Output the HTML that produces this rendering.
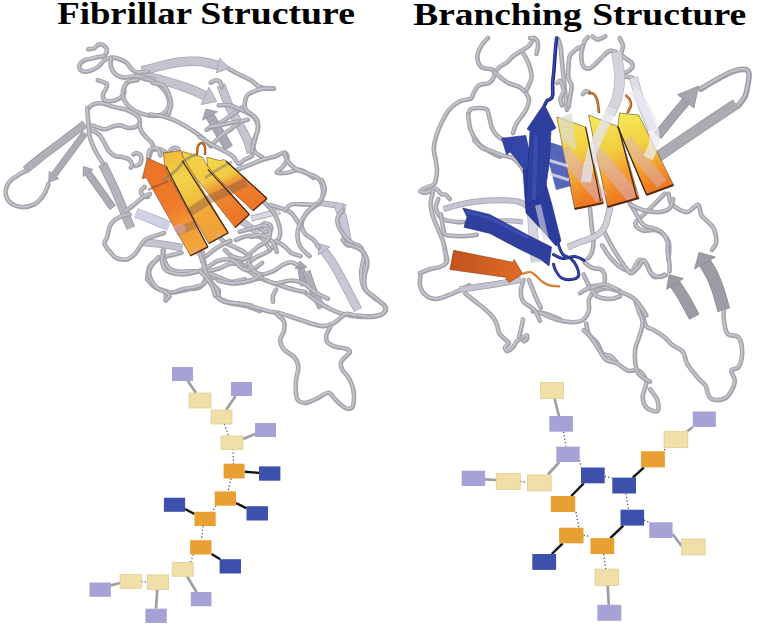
<!DOCTYPE html>
<html><head><meta charset="utf-8"><style>
html,body{margin:0;padding:0;background:#fff;width:757px;height:624px;overflow:hidden}
svg{display:block}
</style></head><body>
<svg width="757" height="624" viewBox="0 0 757 624">
<rect width="757" height="624" fill="#fff"/>
<path d="M85.0,124.0 C80.8,127.2 67.5,137.3 60.0,143.0 C52.5,148.7 45.8,153.5 40.0,158.0 C34.2,162.5 27.9,168.0 25.5,170.0" fill="none" stroke="#92929e" stroke-width="8.0" stroke-linecap="butt" stroke-linejoin="round"/>
<path d="M85.0,124.0 C80.8,127.2 67.5,137.3 60.0,143.0 C52.5,148.7 45.8,153.5 40.0,158.0 C34.2,162.5 27.9,168.0 25.5,170.0" fill="none" stroke="#b0b0ba" stroke-width="6.6" stroke-linecap="butt" stroke-linejoin="round"/>
<path d="M85.0,133.0 C82.2,136.8 73.2,149.0 68.0,156.0 C62.8,163.0 56.3,171.8 54.0,175.0" fill="none" stroke="#90909c" stroke-width="7.0" stroke-linecap="butt" stroke-linejoin="round"/>
<path d="M85.0,133.0 C82.2,136.8 73.2,149.0 68.0,156.0 C62.8,163.0 56.3,171.8 54.0,175.0" fill="none" stroke="#acacb6" stroke-width="5.6" stroke-linecap="butt" stroke-linejoin="round"/>
<polygon points="49.2,171.4 48.7,182.2 58.8,178.6" fill="#acacb6" stroke="#90909c" stroke-width="0.8" stroke-linejoin="round"/>
<path d="M102.6,164.0 C104.8,168.7 111.3,181.3 116.0,192.0 C120.7,202.7 128.3,222.0 130.8,228.0" fill="none" stroke="#94949e" stroke-width="9.0" stroke-linecap="butt" stroke-linejoin="round"/>
<path d="M102.6,164.0 C104.8,168.7 111.3,181.3 116.0,192.0 C120.7,202.7 128.3,222.0 130.8,228.0" fill="none" stroke="#b4b4be" stroke-width="7.6" stroke-linecap="butt" stroke-linejoin="round"/>
<path d="M112.8,207.7 C110.3,204.2 102.1,192.8 98.0,187.0 C93.9,181.2 89.7,175.3 88.0,173.0" fill="none" stroke="#90909c" stroke-width="7.5" stroke-linecap="butt" stroke-linejoin="round"/>
<path d="M112.8,207.7 C110.3,204.2 102.1,192.8 98.0,187.0 C93.9,181.2 89.7,175.3 88.0,173.0" fill="none" stroke="#acacb6" stroke-width="6.1" stroke-linecap="butt" stroke-linejoin="round"/>
<polygon points="92.9,169.5 83.4,166.5 83.1,176.5" fill="#acacb6" stroke="#90909c" stroke-width="0.8" stroke-linejoin="round"/>
<path d="M142.0,71.0 C145.1,70.2 154.3,67.5 160.6,66.0 C166.9,64.5 173.4,62.8 180.0,62.0 C186.6,61.2 193.7,60.9 200.0,61.5 C206.3,62.1 215.0,64.8 218.0,65.5" fill="none" stroke="#9e9eac" stroke-width="9.5" stroke-linecap="butt" stroke-linejoin="round"/>
<path d="M142.0,71.0 C145.1,70.2 154.3,67.5 160.6,66.0 C166.9,64.5 173.4,62.8 180.0,62.0 C186.6,61.2 193.7,60.9 200.0,61.5 C206.3,62.1 215.0,64.8 218.0,65.5" fill="none" stroke="#c4c4d0" stroke-width="8.1" stroke-linecap="butt" stroke-linejoin="round"/>
<polygon points="216.4,72.8 229.7,68.1 219.6,58.2" fill="#c4c4d0" stroke="#9e9eac" stroke-width="0.8" stroke-linejoin="round"/>
<path d="M139.0,75.0 C143.3,76.0 156.5,78.7 165.0,81.0 C173.5,83.3 183.3,86.5 190.0,89.0 C196.7,91.5 202.5,94.8 205.0,96.0" fill="none" stroke="#9e9eac" stroke-width="9.5" stroke-linecap="butt" stroke-linejoin="round"/>
<path d="M139.0,75.0 C143.3,76.0 156.5,78.7 165.0,81.0 C173.5,83.3 183.3,86.5 190.0,89.0 C196.7,91.5 202.5,94.8 205.0,96.0" fill="none" stroke="#c4c4d0" stroke-width="8.1" stroke-linecap="butt" stroke-linejoin="round"/>
<polygon points="201.0,104.6 216.8,101.5 209.0,87.4" fill="#c4c4d0" stroke="#9e9eac" stroke-width="0.8" stroke-linejoin="round"/>
<path d="M221.0,85.0 C222.4,88.6 226.2,99.9 229.3,106.6 C232.4,113.3 236.7,119.4 239.8,125.1 C242.9,130.8 245.9,136.3 247.8,141.0 C249.7,145.7 250.5,151.0 251.0,153.0" fill="none" stroke="#9e9eac" stroke-width="9.0" stroke-linecap="butt" stroke-linejoin="round"/>
<path d="M221.0,85.0 C222.4,88.6 226.2,99.9 229.3,106.6 C232.4,113.3 236.7,119.4 239.8,125.1 C242.9,130.8 245.9,136.3 247.8,141.0 C249.7,145.7 250.5,151.0 251.0,153.0" fill="none" stroke="#c4c4d0" stroke-width="7.6" stroke-linecap="butt" stroke-linejoin="round"/>
<path d="M210.8,82.7 C211.5,82.3 213.5,80.7 215.0,80.5 C216.5,80.3 218.6,80.4 219.8,81.5 C221.0,82.6 221.6,86.1 222.0,87.0" fill="none" stroke="#a2a2aa" stroke-width="4.6" stroke-linecap="round" stroke-linejoin="round"/>
<path d="M210.8,82.7 C211.5,82.3 213.5,80.7 215.0,80.5 C216.5,80.3 218.6,80.4 219.8,81.5 C221.0,82.6 221.6,86.1 222.0,87.0" fill="none" stroke="#c4c4cc" stroke-width="1.9" stroke-linecap="round" stroke-linejoin="round" transform="translate(-0.3,-0.4)"/>
<path d="M206.4,129.8 C208.6,128.7 215.3,125.7 219.8,123.1 C224.3,120.5 229.6,116.7 233.3,114.1 C237.1,111.5 240.8,108.5 242.3,107.4" fill="none" stroke="#a2a2aa" stroke-width="4.6" stroke-linecap="round" stroke-linejoin="round"/>
<path d="M206.4,129.8 C208.6,128.7 215.3,125.7 219.8,123.1 C224.3,120.5 229.6,116.7 233.3,114.1 C237.1,111.5 240.8,108.5 242.3,107.4" fill="none" stroke="#c4c4cc" stroke-width="1.9" stroke-linecap="round" stroke-linejoin="round" transform="translate(-0.3,-0.4)"/>
<path d="M228.8,148.0 C227.0,145.0 221.1,135.3 218.0,130.0 C214.9,124.7 211.3,118.3 210.0,116.0" fill="none" stroke="#8e8e9c" stroke-width="9.5" stroke-linecap="butt" stroke-linejoin="round"/>
<path d="M228.8,148.0 C227.0,145.0 221.1,135.3 218.0,130.0 C214.9,124.7 211.3,118.3 210.0,116.0" fill="none" stroke="#a8a8b4" stroke-width="8.1" stroke-linecap="butt" stroke-linejoin="round"/>
<polygon points="217.4,111.8 206.0,109.1 202.6,120.2" fill="#a8a8b4" stroke="#8e8e9c" stroke-width="0.8" stroke-linejoin="round"/>
<path d="M358.0,310.0 C356.0,306.2 350.0,294.5 346.0,287.0 C342.0,279.5 337.7,271.0 334.0,265.0 C330.3,259.0 325.7,253.3 324.0,251.0" fill="none" stroke="#9e9eac" stroke-width="9.0" stroke-linecap="butt" stroke-linejoin="round"/>
<path d="M358.0,310.0 C356.0,306.2 350.0,294.5 346.0,287.0 C342.0,279.5 337.7,271.0 334.0,265.0 C330.3,259.0 325.7,253.3 324.0,251.0" fill="none" stroke="#c8c8d4" stroke-width="7.6" stroke-linecap="butt" stroke-linejoin="round"/>
<polygon points="329.7,246.9 318.8,243.7 318.3,255.1" fill="#c8c8d4" stroke="#9e9eac" stroke-width="0.8" stroke-linejoin="round"/>
<path d="M304.0,286.0 C303.7,284.2 302.5,278.0 302.0,275.0 C301.5,272.0 301.2,269.2 301.0,268.0" fill="none" stroke="#8e8e9a" stroke-width="7.0" stroke-linecap="butt" stroke-linejoin="round"/>
<path d="M304.0,286.0 C303.7,284.2 302.5,278.0 302.0,275.0 C301.5,272.0 301.2,269.2 301.0,268.0" fill="none" stroke="#a8a8b2" stroke-width="5.6" stroke-linecap="butt" stroke-linejoin="round"/>
<polygon points="306.9,267.2 300.0,261.1 295.1,268.8" fill="#a8a8b2" stroke="#8e8e9a" stroke-width="0.8" stroke-linejoin="round"/>
<path d="M306.5,271.3 C307.6,274.4 310.4,283.9 313.0,290.0 C315.6,296.1 320.3,304.9 321.8,307.9" fill="none" stroke="#92929e" stroke-width="8.0" stroke-linecap="butt" stroke-linejoin="round"/>
<path d="M306.5,271.3 C307.6,274.4 310.4,283.9 313.0,290.0 C315.6,296.1 320.3,304.9 321.8,307.9" fill="none" stroke="#b0b0ba" stroke-width="6.6" stroke-linecap="butt" stroke-linejoin="round"/>
<path d="M136.0,213.0 C138.7,214.0 146.5,216.8 152.0,219.0 C157.5,221.2 166.2,224.8 169.0,226.0" fill="none" stroke="#b0b0c8" stroke-width="10.0" stroke-linecap="butt" stroke-linejoin="round"/>
<path d="M136.0,213.0 C138.7,214.0 146.5,216.8 152.0,219.0 C157.5,221.2 166.2,224.8 169.0,226.0" fill="none" stroke="#d0d0e6" stroke-width="8.6" stroke-linecap="butt" stroke-linejoin="round"/>
<path d="M142.8,242.3 C145.7,242.6 153.4,243.1 160.0,244.0 C166.6,244.9 178.8,247.0 182.5,247.6" fill="none" stroke="#9e9eac" stroke-width="7.6" stroke-linecap="butt" stroke-linejoin="round"/>
<path d="M142.8,242.3 C145.7,242.6 153.4,243.1 160.0,244.0 C166.6,244.9 178.8,247.0 182.5,247.6" fill="none" stroke="#c4c4d0" stroke-width="6.2" stroke-linecap="butt" stroke-linejoin="round"/>
<path d="M318.9,202.8 C322.0,203.2 332.9,204.8 337.4,205.5 C341.9,206.2 344.6,206.8 346.0,207.0" fill="none" stroke="#9e9eac" stroke-width="6.0" stroke-linecap="butt" stroke-linejoin="round"/>
<path d="M318.9,202.8 C322.0,203.2 332.9,204.8 337.4,205.5 C341.9,206.2 344.6,206.8 346.0,207.0" fill="none" stroke="#c4c4d0" stroke-width="4.6" stroke-linecap="butt" stroke-linejoin="round"/>
<path d="M338.0,204.0 C338.8,206.6 341.7,214.5 343.0,219.6 C344.3,224.7 345.2,230.7 346.0,234.8 C346.8,238.9 347.7,242.5 348.0,244.0" fill="none" stroke="#9e9eac" stroke-width="9.0" stroke-linecap="butt" stroke-linejoin="round"/>
<path d="M338.0,204.0 C338.8,206.6 341.7,214.5 343.0,219.6 C344.3,224.7 345.2,230.7 346.0,234.8 C346.8,238.9 347.7,242.5 348.0,244.0" fill="none" stroke="#c8c8d4" stroke-width="7.6" stroke-linecap="butt" stroke-linejoin="round"/>
<path d="M251.0,218.5 C253.3,217.9 260.2,216.2 265.0,215.0 C269.8,213.8 277.5,211.7 280.0,211.0" fill="none" stroke="#9e9eac" stroke-width="6.0" stroke-linecap="butt" stroke-linejoin="round"/>
<path d="M251.0,218.5 C253.3,217.9 260.2,216.2 265.0,215.0 C269.8,213.8 277.5,211.7 280.0,211.0" fill="none" stroke="#d8d8e2" stroke-width="4.6" stroke-linecap="butt" stroke-linejoin="round"/>
<path d="M240.0,220.3 C241.7,221.4 246.9,224.8 250.0,227.0 C253.1,229.2 257.0,232.2 258.4,233.3" fill="none" stroke="#9e9eac" stroke-width="7.0" stroke-linecap="butt" stroke-linejoin="round"/>
<path d="M240.0,220.3 C241.7,221.4 246.9,224.8 250.0,227.0 C253.1,229.2 257.0,232.2 258.4,233.3" fill="none" stroke="#c4c4d0" stroke-width="5.6" stroke-linecap="butt" stroke-linejoin="round"/>
<path d="M88.2,49.2 C89.1,49.1 92.0,49.3 93.8,48.5 C95.6,47.7 97.2,44.9 99.0,44.5 C100.8,44.1 103.1,44.8 104.4,45.9 C105.7,47.0 107.0,49.2 107.0,51.0 C107.0,52.8 104.8,55.5 104.4,56.4" fill="none" stroke="#a2a2aa" stroke-width="4.6" stroke-linecap="round" stroke-linejoin="round"/>
<path d="M88.2,49.2 C89.1,49.1 92.0,49.3 93.8,48.5 C95.6,47.7 97.2,44.9 99.0,44.5 C100.8,44.1 103.1,44.8 104.4,45.9 C105.7,47.0 107.0,49.2 107.0,51.0 C107.0,52.8 104.8,55.5 104.4,56.4" fill="none" stroke="#c4c4cc" stroke-width="1.9" stroke-linecap="round" stroke-linejoin="round" transform="translate(-0.3,-0.4)"/>
<path d="M104.4,56.4 C102.9,56.6 98.4,57.0 95.1,57.7 C91.8,58.4 87.1,59.1 84.5,60.4 C81.9,61.7 79.7,63.9 79.3,65.7 C78.9,67.5 80.2,70.1 81.9,71.0 C83.7,71.9 87.2,71.7 89.8,71.0 C92.4,70.3 95.4,68.8 97.8,67.0 C100.2,65.2 102.2,61.9 104.4,60.4 C106.6,58.9 108.6,57.9 111.0,57.7 C113.4,57.5 116.3,58.1 118.9,59.0 C121.5,59.9 124.6,61.2 126.8,63.0 C129.0,64.8 130.2,68.0 132.0,69.6 C133.8,71.1 134.7,71.9 137.4,72.3 C140.1,72.7 146.2,71.8 148.0,71.7" fill="none" stroke="#a2a2aa" stroke-width="4.6" stroke-linecap="round" stroke-linejoin="round"/>
<path d="M104.4,56.4 C102.9,56.6 98.4,57.0 95.1,57.7 C91.8,58.4 87.1,59.1 84.5,60.4 C81.9,61.7 79.7,63.9 79.3,65.7 C78.9,67.5 80.2,70.1 81.9,71.0 C83.7,71.9 87.2,71.7 89.8,71.0 C92.4,70.3 95.4,68.8 97.8,67.0 C100.2,65.2 102.2,61.9 104.4,60.4 C106.6,58.9 108.6,57.9 111.0,57.7 C113.4,57.5 116.3,58.1 118.9,59.0 C121.5,59.9 124.6,61.2 126.8,63.0 C129.0,64.8 130.2,68.0 132.0,69.6 C133.8,71.1 134.7,71.9 137.4,72.3 C140.1,72.7 146.2,71.8 148.0,71.7" fill="none" stroke="#c4c4cc" stroke-width="1.9" stroke-linecap="round" stroke-linejoin="round" transform="translate(-0.3,-0.4)"/>
<path d="M111.0,57.7 C111.0,59.2 110.1,64.1 111.0,67.0 C111.9,69.9 114.0,73.1 116.2,74.9 C118.4,76.7 121.1,77.4 124.2,77.6 C127.3,77.8 131.2,76.2 134.7,76.2 C138.2,76.2 142.2,77.1 145.3,77.6 C148.4,78.0 151.9,78.7 153.2,78.9" fill="none" stroke="#a2a2aa" stroke-width="4.6" stroke-linecap="round" stroke-linejoin="round"/>
<path d="M111.0,57.7 C111.0,59.2 110.1,64.1 111.0,67.0 C111.9,69.9 114.0,73.1 116.2,74.9 C118.4,76.7 121.1,77.4 124.2,77.6 C127.3,77.8 131.2,76.2 134.7,76.2 C138.2,76.2 142.2,77.1 145.3,77.6 C148.4,78.0 151.9,78.7 153.2,78.9" fill="none" stroke="#c4c4cc" stroke-width="1.9" stroke-linecap="round" stroke-linejoin="round" transform="translate(-0.3,-0.4)"/>
<path d="M97.8,80.2 C98.5,80.4 100.2,80.8 101.7,81.5 C103.2,82.2 106.3,82.9 107.0,84.2 C107.7,85.5 106.4,87.7 105.7,89.4 C105.0,91.2 103.2,92.9 103.0,94.7 C102.8,96.5 103.1,98.9 104.4,100.0 C105.7,101.1 108.6,101.5 111.0,101.3 C113.4,101.1 116.7,100.0 118.9,98.7 C121.1,97.4 123.3,95.4 124.2,93.4 C125.1,91.4 123.3,88.8 124.2,86.8 C125.1,84.8 127.3,82.6 129.5,81.5 C131.7,80.4 136.1,80.4 137.4,80.2" fill="none" stroke="#a2a2aa" stroke-width="4.6" stroke-linecap="round" stroke-linejoin="round"/>
<path d="M97.8,80.2 C98.5,80.4 100.2,80.8 101.7,81.5 C103.2,82.2 106.3,82.9 107.0,84.2 C107.7,85.5 106.4,87.7 105.7,89.4 C105.0,91.2 103.2,92.9 103.0,94.7 C102.8,96.5 103.1,98.9 104.4,100.0 C105.7,101.1 108.6,101.5 111.0,101.3 C113.4,101.1 116.7,100.0 118.9,98.7 C121.1,97.4 123.3,95.4 124.2,93.4 C125.1,91.4 123.3,88.8 124.2,86.8 C125.1,84.8 127.3,82.6 129.5,81.5 C131.7,80.4 136.1,80.4 137.4,80.2" fill="none" stroke="#c4c4cc" stroke-width="1.9" stroke-linecap="round" stroke-linejoin="round" transform="translate(-0.3,-0.4)"/>
<path d="M126.8,82.8 C126.2,84.1 123.3,87.9 122.9,90.8 C122.5,93.7 122.9,97.1 124.2,100.0 C125.5,102.9 128.2,105.8 130.8,108.0 C133.4,110.2 136.3,111.9 140.0,113.2 C143.7,114.5 149.2,115.9 153.2,115.9 C157.2,115.9 161.2,115.0 163.8,113.2 C166.5,111.4 168.4,108.2 169.1,105.3 C169.8,102.4 169.1,99.1 167.8,96.0 C166.5,92.9 163.6,89.2 161.2,86.8 C158.8,84.4 155.9,82.8 153.2,81.5 C150.5,80.2 146.4,79.4 145.0,79.0" fill="none" stroke="#a2a2aa" stroke-width="4.6" stroke-linecap="round" stroke-linejoin="round"/>
<path d="M126.8,82.8 C126.2,84.1 123.3,87.9 122.9,90.8 C122.5,93.7 122.9,97.1 124.2,100.0 C125.5,102.9 128.2,105.8 130.8,108.0 C133.4,110.2 136.3,111.9 140.0,113.2 C143.7,114.5 149.2,115.9 153.2,115.9 C157.2,115.9 161.2,115.0 163.8,113.2 C166.5,111.4 168.4,108.2 169.1,105.3 C169.8,102.4 169.1,99.1 167.8,96.0 C166.5,92.9 163.6,89.2 161.2,86.8 C158.8,84.4 155.9,82.8 153.2,81.5 C150.5,80.2 146.4,79.4 145.0,79.0" fill="none" stroke="#c4c4cc" stroke-width="1.9" stroke-linecap="round" stroke-linejoin="round" transform="translate(-0.3,-0.4)"/>
<path d="M88.5,108.2 C89.4,107.5 91.4,105.0 93.8,104.2 C96.2,103.4 99.7,103.1 103.0,103.6 C106.3,104.0 109.8,105.9 113.6,106.9 C117.3,107.9 121.8,108.2 125.5,109.5 C129.2,110.8 133.6,112.8 136.0,114.8 C138.4,116.8 140.0,119.4 140.0,121.4 C140.0,123.4 138.0,125.6 136.0,126.7 C134.0,127.8 130.7,128.2 128.1,128.0 C125.5,127.8 122.8,125.6 120.2,125.4 C117.6,125.2 114.7,126.0 112.3,126.7 C109.9,127.4 107.9,129.1 105.7,129.3 C103.5,129.5 101.0,128.6 99.0,128.0 C97.0,127.5 95.5,126.5 93.8,126.0 C92.1,125.5 89.8,125.2 89.0,125.0" fill="none" stroke="#a2a2aa" stroke-width="4.6" stroke-linecap="round" stroke-linejoin="round"/>
<path d="M88.5,108.2 C89.4,107.5 91.4,105.0 93.8,104.2 C96.2,103.4 99.7,103.1 103.0,103.6 C106.3,104.0 109.8,105.9 113.6,106.9 C117.3,107.9 121.8,108.2 125.5,109.5 C129.2,110.8 133.6,112.8 136.0,114.8 C138.4,116.8 140.0,119.4 140.0,121.4 C140.0,123.4 138.0,125.6 136.0,126.7 C134.0,127.8 130.7,128.2 128.1,128.0 C125.5,127.8 122.8,125.6 120.2,125.4 C117.6,125.2 114.7,126.0 112.3,126.7 C109.9,127.4 107.9,129.1 105.7,129.3 C103.5,129.5 101.0,128.6 99.0,128.0 C97.0,127.5 95.5,126.5 93.8,126.0 C92.1,125.5 89.8,125.2 89.0,125.0" fill="none" stroke="#c4c4cc" stroke-width="1.9" stroke-linecap="round" stroke-linejoin="round" transform="translate(-0.3,-0.4)"/>
<path d="M87.2,108.0 C87.4,110.6 88.1,119.0 88.5,123.8 C88.9,128.6 88.7,132.6 89.8,137.0 C90.9,141.4 92.9,145.8 95.1,150.2 C97.3,154.6 101.7,161.2 103.0,163.4" fill="none" stroke="#a2a2aa" stroke-width="4.6" stroke-linecap="round" stroke-linejoin="round"/>
<path d="M87.2,108.0 C87.4,110.6 88.1,119.0 88.5,123.8 C88.9,128.6 88.7,132.6 89.8,137.0 C90.9,141.4 92.9,145.8 95.1,150.2 C97.3,154.6 101.7,161.2 103.0,163.4" fill="none" stroke="#c4c4cc" stroke-width="1.9" stroke-linecap="round" stroke-linejoin="round" transform="translate(-0.3,-0.4)"/>
<path d="M25.5,171.0 C23.0,172.6 13.9,177.2 10.6,180.6 C7.3,183.9 6.0,187.6 5.8,191.1 C5.6,194.6 6.6,199.0 9.2,201.7 C11.8,204.3 16.9,206.6 21.1,207.0 C25.3,207.4 30.5,206.4 34.3,204.4 C38.0,202.4 41.2,198.5 43.6,195.1 C46.0,191.7 47.7,185.8 48.5,184.0" fill="none" stroke="#a2a2aa" stroke-width="4.6" stroke-linecap="round" stroke-linejoin="round"/>
<path d="M25.5,171.0 C23.0,172.6 13.9,177.2 10.6,180.6 C7.3,183.9 6.0,187.6 5.8,191.1 C5.6,194.6 6.6,199.0 9.2,201.7 C11.8,204.3 16.9,206.6 21.1,207.0 C25.3,207.4 30.5,206.4 34.3,204.4 C38.0,202.4 41.2,198.5 43.6,195.1 C46.0,191.7 47.7,185.8 48.5,184.0" fill="none" stroke="#c4c4cc" stroke-width="1.9" stroke-linecap="round" stroke-linejoin="round" transform="translate(-0.3,-0.4)"/>
<path d="M229.0,69.0 C230.5,69.8 234.1,71.8 237.8,73.7 C241.5,75.6 247.6,78.2 251.3,80.4 C255.0,82.7 256.5,85.9 260.2,87.2 C263.9,88.5 271.4,88.1 273.7,88.3" fill="none" stroke="#a2a2aa" stroke-width="4.6" stroke-linecap="round" stroke-linejoin="round"/>
<path d="M229.0,69.0 C230.5,69.8 234.1,71.8 237.8,73.7 C241.5,75.6 247.6,78.2 251.3,80.4 C255.0,82.7 256.5,85.9 260.2,87.2 C263.9,88.5 271.4,88.1 273.7,88.3" fill="none" stroke="#c4c4cc" stroke-width="1.9" stroke-linecap="round" stroke-linejoin="round" transform="translate(-0.3,-0.4)"/>
<path d="M218.7,105.3 C220.5,105.3 225.8,104.6 229.3,105.3 C232.8,106.0 236.3,107.8 239.8,109.3 C243.3,110.8 247.8,112.8 250.4,114.5 C253.1,116.2 254.4,117.6 255.7,119.8 C257.0,122.0 258.3,125.2 258.3,127.8 C258.3,130.4 256.6,133.1 255.7,135.7 C254.8,138.3 253.1,140.9 253.0,143.6 C252.9,146.3 253.5,149.8 255.0,152.0 C256.5,154.2 260.8,156.2 262.0,157.0" fill="none" stroke="#a2a2aa" stroke-width="4.6" stroke-linecap="round" stroke-linejoin="round"/>
<path d="M218.7,105.3 C220.5,105.3 225.8,104.6 229.3,105.3 C232.8,106.0 236.3,107.8 239.8,109.3 C243.3,110.8 247.8,112.8 250.4,114.5 C253.1,116.2 254.4,117.6 255.7,119.8 C257.0,122.0 258.3,125.2 258.3,127.8 C258.3,130.4 256.6,133.1 255.7,135.7 C254.8,138.3 253.1,140.9 253.0,143.6 C252.9,146.3 253.5,149.8 255.0,152.0 C256.5,154.2 260.8,156.2 262.0,157.0" fill="none" stroke="#c4c4cc" stroke-width="1.9" stroke-linecap="round" stroke-linejoin="round" transform="translate(-0.3,-0.4)"/>
<path d="M150.0,114.5 C152.7,115.0 161.1,115.9 165.9,117.2 C170.7,118.5 174.6,120.3 179.0,122.5 C183.4,124.7 188.3,127.8 192.3,130.4 C196.3,133.0 199.7,135.7 202.8,138.3 C205.9,140.9 209.5,144.9 210.8,146.2" fill="none" stroke="#a2a2aa" stroke-width="4.6" stroke-linecap="round" stroke-linejoin="round"/>
<path d="M150.0,114.5 C152.7,115.0 161.1,115.9 165.9,117.2 C170.7,118.5 174.6,120.3 179.0,122.5 C183.4,124.7 188.3,127.8 192.3,130.4 C196.3,133.0 199.7,135.7 202.8,138.3 C205.9,140.9 209.5,144.9 210.8,146.2" fill="none" stroke="#c4c4cc" stroke-width="1.9" stroke-linecap="round" stroke-linejoin="round" transform="translate(-0.3,-0.4)"/>
<path d="M210.8,146.2 C212.6,144.4 218.2,138.3 221.3,135.7 C224.4,133.1 226.2,132.6 229.3,130.4 C232.4,128.2 236.7,124.3 239.8,122.5 C242.9,120.7 246.5,120.2 247.8,119.8" fill="none" stroke="#a2a2aa" stroke-width="4.6" stroke-linecap="round" stroke-linejoin="round"/>
<path d="M210.8,146.2 C212.6,144.4 218.2,138.3 221.3,135.7 C224.4,133.1 226.2,132.6 229.3,130.4 C232.4,128.2 236.7,124.3 239.8,122.5 C242.9,120.7 246.5,120.2 247.8,119.8" fill="none" stroke="#c4c4cc" stroke-width="1.9" stroke-linecap="round" stroke-linejoin="round" transform="translate(-0.3,-0.4)"/>
<path d="M152.6,82.8 C154.4,83.2 160.5,83.7 163.2,85.5 C165.8,87.3 167.2,90.3 168.5,93.4 C169.8,96.5 171.1,100.5 171.1,104.0 C171.1,107.5 168.9,112.8 168.5,114.5" fill="none" stroke="#a2a2aa" stroke-width="4.6" stroke-linecap="round" stroke-linejoin="round"/>
<path d="M152.6,82.8 C154.4,83.2 160.5,83.7 163.2,85.5 C165.8,87.3 167.2,90.3 168.5,93.4 C169.8,96.5 171.1,100.5 171.1,104.0 C171.1,107.5 168.9,112.8 168.5,114.5" fill="none" stroke="#c4c4cc" stroke-width="1.9" stroke-linecap="round" stroke-linejoin="round" transform="translate(-0.3,-0.4)"/>
<path d="M237.2,170.0 C239.4,169.1 246.0,166.4 250.4,164.7 C254.8,162.9 259.6,160.8 263.6,159.5 C267.6,158.2 270.7,157.9 274.2,156.8 C277.7,155.7 282.5,152.4 284.7,152.8 C286.9,153.2 287.8,157.1 287.4,159.5 C287.0,161.9 283.9,165.2 282.1,167.4 C280.3,169.6 275.9,171.8 276.8,172.7 C277.7,173.6 283.4,173.1 287.4,172.7 C291.4,172.2 296.2,169.1 300.6,170.0 C305.0,170.9 311.6,176.6 313.8,177.9" fill="none" stroke="#a2a2aa" stroke-width="4.6" stroke-linecap="round" stroke-linejoin="round"/>
<path d="M237.2,170.0 C239.4,169.1 246.0,166.4 250.4,164.7 C254.8,162.9 259.6,160.8 263.6,159.5 C267.6,158.2 270.7,157.9 274.2,156.8 C277.7,155.7 282.5,152.4 284.7,152.8 C286.9,153.2 287.8,157.1 287.4,159.5 C287.0,161.9 283.9,165.2 282.1,167.4 C280.3,169.6 275.9,171.8 276.8,172.7 C277.7,173.6 283.4,173.1 287.4,172.7 C291.4,172.2 296.2,169.1 300.6,170.0 C305.0,170.9 311.6,176.6 313.8,177.9" fill="none" stroke="#c4c4cc" stroke-width="1.9" stroke-linecap="round" stroke-linejoin="round" transform="translate(-0.3,-0.4)"/>
<path d="M284.5,152.6 C284.9,153.9 285.4,157.9 287.2,160.6 C289.0,163.2 291.6,166.3 295.1,168.5 C298.6,170.7 304.3,172.1 308.3,173.8 C312.3,175.6 316.5,176.4 318.9,179.0 C321.3,181.6 322.5,186.1 322.9,189.6 C323.3,193.1 322.6,197.5 321.5,200.2 C320.4,202.8 318.4,203.7 316.2,205.5 C314.0,207.3 310.5,208.6 308.3,210.8 C306.1,213.0 304.1,216.1 303.0,218.7 C301.9,221.3 301.2,224.0 301.7,226.6 C302.1,229.2 303.7,232.3 305.7,234.5 C307.7,236.7 311.4,237.6 313.6,239.8 C315.8,242.0 318.0,246.5 318.9,247.8" fill="none" stroke="#a2a2aa" stroke-width="4.6" stroke-linecap="round" stroke-linejoin="round"/>
<path d="M284.5,152.6 C284.9,153.9 285.4,157.9 287.2,160.6 C289.0,163.2 291.6,166.3 295.1,168.5 C298.6,170.7 304.3,172.1 308.3,173.8 C312.3,175.6 316.5,176.4 318.9,179.0 C321.3,181.6 322.5,186.1 322.9,189.6 C323.3,193.1 322.6,197.5 321.5,200.2 C320.4,202.8 318.4,203.7 316.2,205.5 C314.0,207.3 310.5,208.6 308.3,210.8 C306.1,213.0 304.1,216.1 303.0,218.7 C301.9,221.3 301.2,224.0 301.7,226.6 C302.1,229.2 303.7,232.3 305.7,234.5 C307.7,236.7 311.4,237.6 313.6,239.8 C315.8,242.0 318.0,246.5 318.9,247.8" fill="none" stroke="#c4c4cc" stroke-width="1.9" stroke-linecap="round" stroke-linejoin="round" transform="translate(-0.3,-0.4)"/>
<path d="M342.7,210.8 C341.8,212.1 337.8,215.6 337.4,218.7 C336.9,221.8 338.2,225.8 340.0,229.3 C341.8,232.8 345.4,237.2 348.0,239.8 C350.6,242.4 353.7,243.3 355.9,245.1 C358.1,246.9 360.3,249.5 361.2,250.4" fill="none" stroke="#a2a2aa" stroke-width="4.6" stroke-linecap="round" stroke-linejoin="round"/>
<path d="M342.7,210.8 C341.8,212.1 337.8,215.6 337.4,218.7 C336.9,221.8 338.2,225.8 340.0,229.3 C341.8,232.8 345.4,237.2 348.0,239.8 C350.6,242.4 353.7,243.3 355.9,245.1 C358.1,246.9 360.3,249.5 361.2,250.4" fill="none" stroke="#c4c4cc" stroke-width="1.9" stroke-linecap="round" stroke-linejoin="round" transform="translate(-0.3,-0.4)"/>
<path d="M342.7,240.0 C343.6,240.9 345.4,244.4 348.0,245.3 C350.6,246.2 355.9,243.5 358.5,245.3 C361.1,247.1 363.4,251.5 363.8,255.9 C364.2,260.3 361.2,266.4 361.2,271.7 C361.2,277.0 361.6,283.2 363.8,287.6 C366.0,292.0 370.9,295.0 374.4,298.1 C377.9,301.2 383.7,303.4 385.0,306.0 C386.3,308.6 385.0,312.2 382.3,314.0 C379.6,315.8 373.0,316.2 369.0,316.6 C365.0,317.0 362.9,317.0 358.5,316.6 C354.1,316.2 347.5,315.3 342.7,314.0 C337.9,312.7 333.9,310.9 329.5,308.7 C325.1,306.5 320.2,303.4 316.2,300.8 C312.2,298.2 307.4,294.1 305.7,292.8" fill="none" stroke="#a2a2aa" stroke-width="4.6" stroke-linecap="round" stroke-linejoin="round"/>
<path d="M342.7,240.0 C343.6,240.9 345.4,244.4 348.0,245.3 C350.6,246.2 355.9,243.5 358.5,245.3 C361.1,247.1 363.4,251.5 363.8,255.9 C364.2,260.3 361.2,266.4 361.2,271.7 C361.2,277.0 361.6,283.2 363.8,287.6 C366.0,292.0 370.9,295.0 374.4,298.1 C377.9,301.2 383.7,303.4 385.0,306.0 C386.3,308.6 385.0,312.2 382.3,314.0 C379.6,315.8 373.0,316.2 369.0,316.6 C365.0,317.0 362.9,317.0 358.5,316.6 C354.1,316.2 347.5,315.3 342.7,314.0 C337.9,312.7 333.9,310.9 329.5,308.7 C325.1,306.5 320.2,303.4 316.2,300.8 C312.2,298.2 307.4,294.1 305.7,292.8" fill="none" stroke="#c4c4cc" stroke-width="1.9" stroke-linecap="round" stroke-linejoin="round" transform="translate(-0.3,-0.4)"/>
<path d="M129.6,214.5 C128.5,214.7 125.4,215.0 123.0,215.9 C120.6,216.8 117.3,218.1 115.1,219.8 C112.9,221.6 111.1,223.5 109.8,226.4 C108.5,229.3 108.1,234.1 107.2,237.0 C106.3,239.9 104.1,241.2 104.5,243.6 C104.9,246.0 107.8,249.1 109.8,251.5 C111.8,253.9 113.5,256.8 116.4,258.1 C119.3,259.4 123.9,260.0 127.0,259.4 C130.1,258.8 132.7,256.4 134.9,254.2 C137.1,252.0 138.4,248.6 140.2,246.2 C142.0,243.8 142.9,241.3 145.5,239.6 C148.1,237.8 152.9,236.8 156.0,235.7 C159.1,234.6 162.7,233.4 164.0,233.0" fill="none" stroke="#a2a2aa" stroke-width="4.6" stroke-linecap="round" stroke-linejoin="round"/>
<path d="M129.6,214.5 C128.5,214.7 125.4,215.0 123.0,215.9 C120.6,216.8 117.3,218.1 115.1,219.8 C112.9,221.6 111.1,223.5 109.8,226.4 C108.5,229.3 108.1,234.1 107.2,237.0 C106.3,239.9 104.1,241.2 104.5,243.6 C104.9,246.0 107.8,249.1 109.8,251.5 C111.8,253.9 113.5,256.8 116.4,258.1 C119.3,259.4 123.9,260.0 127.0,259.4 C130.1,258.8 132.7,256.4 134.9,254.2 C137.1,252.0 138.4,248.6 140.2,246.2 C142.0,243.8 142.9,241.3 145.5,239.6 C148.1,237.8 152.9,236.8 156.0,235.7 C159.1,234.6 162.7,233.4 164.0,233.0" fill="none" stroke="#c4c4cc" stroke-width="1.9" stroke-linecap="round" stroke-linejoin="round" transform="translate(-0.3,-0.4)"/>
<path d="M162.7,250.2 C162.9,251.7 162.9,256.3 164.0,259.4 C165.1,262.5 166.2,266.5 169.3,268.7 C172.4,270.9 180.3,272.0 182.5,272.7" fill="none" stroke="#a2a2aa" stroke-width="4.6" stroke-linecap="round" stroke-linejoin="round"/>
<path d="M162.7,250.2 C162.9,251.7 162.9,256.3 164.0,259.4 C165.1,262.5 166.2,266.5 169.3,268.7 C172.4,270.9 180.3,272.0 182.5,272.7" fill="none" stroke="#c4c4cc" stroke-width="1.9" stroke-linecap="round" stroke-linejoin="round" transform="translate(-0.3,-0.4)"/>
<path d="M147.2,279.3 C147.6,277.1 147.6,269.6 149.8,266.0 C152.0,262.4 156.9,259.8 160.4,258.0 C163.9,256.2 167.5,256.4 171.0,255.5 C174.5,254.6 179.8,253.2 181.5,252.8" fill="none" stroke="#a2a2aa" stroke-width="4.6" stroke-linecap="round" stroke-linejoin="round"/>
<path d="M147.2,279.3 C147.6,277.1 147.6,269.6 149.8,266.0 C152.0,262.4 156.9,259.8 160.4,258.0 C163.9,256.2 167.5,256.4 171.0,255.5 C174.5,254.6 179.8,253.2 181.5,252.8" fill="none" stroke="#c4c4cc" stroke-width="1.9" stroke-linecap="round" stroke-linejoin="round" transform="translate(-0.3,-0.4)"/>
<path d="M147.2,279.3 C148.5,280.6 152.0,285.2 155.1,287.2 C158.2,289.2 162.6,290.2 165.7,291.1 C168.8,292.0 170.1,292.7 173.6,292.5 C177.1,292.3 182.4,290.7 186.8,289.8 C191.2,288.9 196.9,288.9 200.0,287.2 C203.1,285.4 204.0,281.9 205.3,279.3 C206.6,276.7 207.6,272.6 208.0,271.3" fill="none" stroke="#a2a2aa" stroke-width="4.6" stroke-linecap="round" stroke-linejoin="round"/>
<path d="M147.2,279.3 C148.5,280.6 152.0,285.2 155.1,287.2 C158.2,289.2 162.6,290.2 165.7,291.1 C168.8,292.0 170.1,292.7 173.6,292.5 C177.1,292.3 182.4,290.7 186.8,289.8 C191.2,288.9 196.9,288.9 200.0,287.2 C203.1,285.4 204.0,281.9 205.3,279.3 C206.6,276.7 207.6,272.6 208.0,271.3" fill="none" stroke="#c4c4cc" stroke-width="1.9" stroke-linecap="round" stroke-linejoin="round" transform="translate(-0.3,-0.4)"/>
<path d="M165.7,291.1 C165.7,292.7 165.7,298.8 165.7,300.4" fill="none" stroke="#a2a2aa" stroke-width="4.6" stroke-linecap="round" stroke-linejoin="round"/>
<path d="M165.7,291.1 C165.7,292.7 165.7,298.8 165.7,300.4" fill="none" stroke="#c4c4cc" stroke-width="1.9" stroke-linecap="round" stroke-linejoin="round" transform="translate(-0.3,-0.4)"/>
<path d="M163.0,252.8 C163.4,254.6 163.9,260.3 165.7,263.4 C167.5,266.5 169.6,270.0 173.6,271.3 C177.6,272.6 184.2,271.3 189.5,271.3 C194.8,271.3 200.5,271.7 205.3,271.3 C210.1,270.9 214.1,270.0 218.5,268.7 C222.9,267.4 227.3,263.8 231.7,263.4 C236.1,262.9 242.8,265.6 245.0,266.0" fill="none" stroke="#a2a2aa" stroke-width="4.6" stroke-linecap="round" stroke-linejoin="round"/>
<path d="M163.0,252.8 C163.4,254.6 163.9,260.3 165.7,263.4 C167.5,266.5 169.6,270.0 173.6,271.3 C177.6,272.6 184.2,271.3 189.5,271.3 C194.8,271.3 200.5,271.7 205.3,271.3 C210.1,270.9 214.1,270.0 218.5,268.7 C222.9,267.4 227.3,263.8 231.7,263.4 C236.1,262.9 242.8,265.6 245.0,266.0" fill="none" stroke="#c4c4cc" stroke-width="1.9" stroke-linecap="round" stroke-linejoin="round" transform="translate(-0.3,-0.4)"/>
<path d="M202.7,252.8 C203.6,257.2 205.4,273.1 208.0,279.3 C210.6,285.5 216.8,286.7 218.5,289.8 C220.2,292.9 216.8,295.6 218.5,297.8 C220.2,300.0 224.6,301.7 229.0,303.0 C233.4,304.3 239.8,304.4 245.0,305.7 C250.2,307.0 257.5,310.1 260.0,311.0" fill="none" stroke="#a2a2aa" stroke-width="4.6" stroke-linecap="round" stroke-linejoin="round"/>
<path d="M202.7,252.8 C203.6,257.2 205.4,273.1 208.0,279.3 C210.6,285.5 216.8,286.7 218.5,289.8 C220.2,292.9 216.8,295.6 218.5,297.8 C220.2,300.0 224.6,301.7 229.0,303.0 C233.4,304.3 239.8,304.4 245.0,305.7 C250.2,307.0 257.5,310.1 260.0,311.0" fill="none" stroke="#c4c4cc" stroke-width="1.9" stroke-linecap="round" stroke-linejoin="round" transform="translate(-0.3,-0.4)"/>
<path d="M210.6,276.6 C213.7,277.5 223.3,281.4 229.0,281.9 C234.7,282.3 242.3,279.7 245.0,279.3" fill="none" stroke="#a2a2aa" stroke-width="4.6" stroke-linecap="round" stroke-linejoin="round"/>
<path d="M210.6,276.6 C213.7,277.5 223.3,281.4 229.0,281.9 C234.7,282.3 242.3,279.7 245.0,279.3" fill="none" stroke="#c4c4cc" stroke-width="1.9" stroke-linecap="round" stroke-linejoin="round" transform="translate(-0.3,-0.4)"/>
<path d="M250.0,190.0 C252.0,191.7 257.8,195.8 262.0,200.0 C266.2,204.2 272.0,209.2 275.0,215.0 C278.0,220.8 280.8,229.2 280.0,235.0 C279.2,240.8 274.2,246.2 270.0,250.0 C265.8,253.8 259.2,255.3 255.0,258.0 C250.8,260.7 246.7,264.7 245.0,266.0" fill="none" stroke="#a2a2aa" stroke-width="4.6" stroke-linecap="round" stroke-linejoin="round"/>
<path d="M250.0,190.0 C252.0,191.7 257.8,195.8 262.0,200.0 C266.2,204.2 272.0,209.2 275.0,215.0 C278.0,220.8 280.8,229.2 280.0,235.0 C279.2,240.8 274.2,246.2 270.0,250.0 C265.8,253.8 259.2,255.3 255.0,258.0 C250.8,260.7 246.7,264.7 245.0,266.0" fill="none" stroke="#c4c4cc" stroke-width="1.9" stroke-linecap="round" stroke-linejoin="round" transform="translate(-0.3,-0.4)"/>
<path d="M236.0,240.0 C238.0,239.3 243.7,236.3 248.0,236.0 C252.3,235.7 258.3,235.7 262.0,238.0 C265.7,240.3 268.7,248.0 270.0,250.0" fill="none" stroke="#a2a2aa" stroke-width="4.6" stroke-linecap="round" stroke-linejoin="round"/>
<path d="M236.0,240.0 C238.0,239.3 243.7,236.3 248.0,236.0 C252.3,235.7 258.3,235.7 262.0,238.0 C265.7,240.3 268.7,248.0 270.0,250.0" fill="none" stroke="#c4c4cc" stroke-width="1.9" stroke-linecap="round" stroke-linejoin="round" transform="translate(-0.3,-0.4)"/>
<path d="M270.0,205.0 C273.3,206.2 285.0,208.5 290.0,212.0 C295.0,215.5 298.3,223.7 300.0,226.0" fill="none" stroke="#a2a2aa" stroke-width="4.6" stroke-linecap="round" stroke-linejoin="round"/>
<path d="M270.0,205.0 C273.3,206.2 285.0,208.5 290.0,212.0 C295.0,215.5 298.3,223.7 300.0,226.0" fill="none" stroke="#c4c4cc" stroke-width="1.9" stroke-linecap="round" stroke-linejoin="round" transform="translate(-0.3,-0.4)"/>
<path d="M225.0,250.0 C227.2,252.0 232.8,257.7 238.0,262.0 C243.2,266.3 249.7,272.3 256.0,276.0 C262.3,279.7 269.5,281.7 276.0,284.0 C282.5,286.3 290.2,288.7 295.0,290.0 C299.8,291.3 303.3,291.7 305.0,292.0" fill="none" stroke="#a2a2aa" stroke-width="4.6" stroke-linecap="round" stroke-linejoin="round"/>
<path d="M225.0,250.0 C227.2,252.0 232.8,257.7 238.0,262.0 C243.2,266.3 249.7,272.3 256.0,276.0 C262.3,279.7 269.5,281.7 276.0,284.0 C282.5,286.3 290.2,288.7 295.0,290.0 C299.8,291.3 303.3,291.7 305.0,292.0" fill="none" stroke="#c4c4cc" stroke-width="1.9" stroke-linecap="round" stroke-linejoin="round" transform="translate(-0.3,-0.4)"/>
<path d="M139.4,123.5 C139.7,124.7 139.9,128.2 141.1,130.6 C142.3,132.9 144.6,135.5 146.4,137.6 C148.2,139.7 150.5,141.1 151.7,142.9 C152.9,144.7 153.2,147.3 153.5,148.2" fill="none" stroke="#a2a2aa" stroke-width="4.6" stroke-linecap="round" stroke-linejoin="round"/>
<path d="M139.4,123.5 C139.7,124.7 139.9,128.2 141.1,130.6 C142.3,132.9 144.6,135.5 146.4,137.6 C148.2,139.7 150.5,141.1 151.7,142.9 C152.9,144.7 153.2,147.3 153.5,148.2" fill="none" stroke="#c4c4cc" stroke-width="1.9" stroke-linecap="round" stroke-linejoin="round" transform="translate(-0.3,-0.4)"/>
<path d="M92.5,130.7 C93.6,131.3 97.0,132.6 99.0,134.6 C101.0,136.6 102.8,139.9 104.3,142.6 C105.8,145.2 106.5,148.3 108.3,150.5 C110.1,152.7 112.5,154.7 114.9,155.8 C117.3,156.9 120.4,156.4 122.8,157.1 C125.2,157.8 127.9,158.4 129.4,159.7 C131.0,161.0 131.9,163.7 132.1,165.0 C132.3,166.3 131.0,167.2 130.8,167.7" fill="none" stroke="#a2a2aa" stroke-width="4.6" stroke-linecap="round" stroke-linejoin="round"/>
<path d="M92.5,130.7 C93.6,131.3 97.0,132.6 99.0,134.6 C101.0,136.6 102.8,139.9 104.3,142.6 C105.8,145.2 106.5,148.3 108.3,150.5 C110.1,152.7 112.5,154.7 114.9,155.8 C117.3,156.9 120.4,156.4 122.8,157.1 C125.2,157.8 127.9,158.4 129.4,159.7 C131.0,161.0 131.9,163.7 132.1,165.0 C132.3,166.3 131.0,167.2 130.8,167.7" fill="none" stroke="#c4c4cc" stroke-width="1.9" stroke-linecap="round" stroke-linejoin="round" transform="translate(-0.3,-0.4)"/>
<path d="M133.4,154.4 C134.1,154.2 136.1,152.7 137.4,153.1 C138.7,153.5 140.9,155.3 141.3,157.1 C141.7,158.9 140.9,162.2 140.0,163.7 C139.1,165.2 136.7,165.6 136.0,166.0" fill="none" stroke="#a2a2aa" stroke-width="4.6" stroke-linecap="round" stroke-linejoin="round"/>
<path d="M133.4,154.4 C134.1,154.2 136.1,152.7 137.4,153.1 C138.7,153.5 140.9,155.3 141.3,157.1 C141.7,158.9 140.9,162.2 140.0,163.7 C139.1,165.2 136.7,165.6 136.0,166.0" fill="none" stroke="#c4c4cc" stroke-width="1.9" stroke-linecap="round" stroke-linejoin="round" transform="translate(-0.3,-0.4)"/>
<path d="M149.3,157.1 C149.7,156.0 150.2,151.8 151.9,150.5 C153.7,149.2 157.6,149.0 159.8,149.2 C162.0,149.4 164.2,151.4 165.1,151.8" fill="none" stroke="#a2a2aa" stroke-width="4.6" stroke-linecap="round" stroke-linejoin="round"/>
<path d="M149.3,157.1 C149.7,156.0 150.2,151.8 151.9,150.5 C153.7,149.2 157.6,149.0 159.8,149.2 C162.0,149.4 164.2,151.4 165.1,151.8" fill="none" stroke="#c4c4cc" stroke-width="1.9" stroke-linecap="round" stroke-linejoin="round" transform="translate(-0.3,-0.4)"/>
<path d="M148.2,158.0 C148.5,156.7 148.8,151.6 150.0,150.0 C151.2,148.4 153.8,148.2 155.3,148.2 C156.8,148.2 157.9,148.8 158.8,150.0 C159.7,151.2 160.2,154.4 160.5,155.3" fill="none" stroke="#a2a2aa" stroke-width="4.6" stroke-linecap="round" stroke-linejoin="round"/>
<path d="M148.2,158.0 C148.5,156.7 148.8,151.6 150.0,150.0 C151.2,148.4 153.8,148.2 155.3,148.2 C156.8,148.2 157.9,148.8 158.8,150.0 C159.7,151.2 160.2,154.4 160.5,155.3" fill="none" stroke="#c4c4cc" stroke-width="1.9" stroke-linecap="round" stroke-linejoin="round" transform="translate(-0.3,-0.4)"/>
<path d="M169.4,151.7 C170.0,151.1 171.4,148.6 172.9,148.2 C174.4,147.8 177.2,147.9 178.2,149.1 C179.2,150.3 178.9,154.3 179.0,155.3" fill="none" stroke="#a2a2aa" stroke-width="4.6" stroke-linecap="round" stroke-linejoin="round"/>
<path d="M169.4,151.7 C170.0,151.1 171.4,148.6 172.9,148.2 C174.4,147.8 177.2,147.9 178.2,149.1 C179.2,150.3 178.9,154.3 179.0,155.3" fill="none" stroke="#c4c4cc" stroke-width="1.9" stroke-linecap="round" stroke-linejoin="round" transform="translate(-0.3,-0.4)"/>
<path d="M144.7,187.0 C144.1,187.6 141.4,189.0 141.1,190.5 C140.8,192.0 141.8,194.7 142.9,195.8 C144.1,196.9 147.2,196.8 148.0,197.0" fill="none" stroke="#a2a2aa" stroke-width="4.6" stroke-linecap="round" stroke-linejoin="round"/>
<path d="M144.7,187.0 C144.1,187.6 141.4,189.0 141.1,190.5 C140.8,192.0 141.8,194.7 142.9,195.8 C144.1,196.9 147.2,196.8 148.0,197.0" fill="none" stroke="#c4c4cc" stroke-width="1.9" stroke-linecap="round" stroke-linejoin="round" transform="translate(-0.3,-0.4)"/>
<path d="M125.3,211.7 C126.8,210.5 131.2,207.0 134.1,204.7 C137.0,202.3 140.2,199.4 142.9,197.6 C145.6,195.8 148.8,194.7 150.0,194.1" fill="none" stroke="#a2a2aa" stroke-width="4.6" stroke-linecap="round" stroke-linejoin="round"/>
<path d="M125.3,211.7 C126.8,210.5 131.2,207.0 134.1,204.7 C137.0,202.3 140.2,199.4 142.9,197.6 C145.6,195.8 148.8,194.7 150.0,194.1" fill="none" stroke="#c4c4cc" stroke-width="1.9" stroke-linecap="round" stroke-linejoin="round" transform="translate(-0.3,-0.4)"/>
<path d="M274.0,88.8 C272.2,88.8 266.5,88.5 263.5,88.8 C260.5,89.1 258.4,89.8 255.8,90.8 C253.2,91.8 249.8,93.0 248.0,94.6 C246.2,96.2 245.7,98.2 245.2,100.4 C244.7,102.6 244.7,106.1 245.2,108.0 C245.7,109.9 246.6,110.7 248.0,112.0 C249.4,113.3 252.2,114.2 253.8,115.8 C255.4,117.4 257.1,119.3 257.7,121.5 C258.3,123.7 258.0,126.6 257.7,129.2 C257.4,131.8 256.4,134.4 255.8,137.0 C255.2,139.6 254.4,142.0 253.8,144.6 C253.2,147.2 252.3,151.0 252.0,152.3" fill="none" stroke="#a2a2aa" stroke-width="4.6" stroke-linecap="round" stroke-linejoin="round"/>
<path d="M274.0,88.8 C272.2,88.8 266.5,88.5 263.5,88.8 C260.5,89.1 258.4,89.8 255.8,90.8 C253.2,91.8 249.8,93.0 248.0,94.6 C246.2,96.2 245.7,98.2 245.2,100.4 C244.7,102.6 244.7,106.1 245.2,108.0 C245.7,109.9 246.6,110.7 248.0,112.0 C249.4,113.3 252.2,114.2 253.8,115.8 C255.4,117.4 257.1,119.3 257.7,121.5 C258.3,123.7 258.0,126.6 257.7,129.2 C257.4,131.8 256.4,134.4 255.8,137.0 C255.2,139.6 254.4,142.0 253.8,144.6 C253.2,147.2 252.3,151.0 252.0,152.3" fill="none" stroke="#c4c4cc" stroke-width="1.9" stroke-linecap="round" stroke-linejoin="round" transform="translate(-0.3,-0.4)"/>
<path d="M200.0,137.0 C201.9,138.3 207.7,142.4 211.5,144.6 C215.3,146.8 219.5,148.5 223.0,150.4 C226.5,152.3 230.1,154.0 232.7,156.2 C235.3,158.4 236.6,163.2 238.5,163.8 C240.4,164.4 241.9,161.3 244.2,160.0 C246.4,158.7 250.7,156.8 252.0,156.2" fill="none" stroke="#a2a2aa" stroke-width="4.6" stroke-linecap="round" stroke-linejoin="round"/>
<path d="M200.0,137.0 C201.9,138.3 207.7,142.4 211.5,144.6 C215.3,146.8 219.5,148.5 223.0,150.4 C226.5,152.3 230.1,154.0 232.7,156.2 C235.3,158.4 236.6,163.2 238.5,163.8 C240.4,164.4 241.9,161.3 244.2,160.0 C246.4,158.7 250.7,156.8 252.0,156.2" fill="none" stroke="#c4c4cc" stroke-width="1.9" stroke-linecap="round" stroke-linejoin="round" transform="translate(-0.3,-0.4)"/>
<path d="M209.6,127.3 C211.2,127.0 216.0,126.0 219.2,125.4 C222.4,124.8 225.6,124.2 228.8,123.5 C232.0,122.8 236.9,121.8 238.5,121.5" fill="none" stroke="#a2a2aa" stroke-width="4.6" stroke-linecap="round" stroke-linejoin="round"/>
<path d="M209.6,127.3 C211.2,127.0 216.0,126.0 219.2,125.4 C222.4,124.8 225.6,124.2 228.8,123.5 C232.0,122.8 236.9,121.8 238.5,121.5" fill="none" stroke="#c4c4cc" stroke-width="1.9" stroke-linecap="round" stroke-linejoin="round" transform="translate(-0.3,-0.4)"/>
<path d="M164.0,250.0 C163.7,251.8 161.9,257.6 162.2,261.0 C162.5,264.4 163.4,268.1 165.9,270.3 C168.4,272.5 173.3,273.4 177.0,274.0 C180.7,274.6 184.0,274.6 188.0,274.0 C192.0,273.4 197.6,271.5 201.0,270.3 C204.4,269.1 205.6,268.2 208.4,266.6 C211.2,265.1 214.6,262.2 217.7,261.0 C220.8,259.8 224.2,259.2 227.0,259.2 C229.8,259.2 232.1,259.8 234.3,261.0 C236.5,262.2 237.8,265.1 240.0,266.6 C242.2,268.2 244.9,270.0 247.3,270.3 C249.8,270.6 252.2,269.6 254.7,268.4 C257.1,267.2 260.8,263.9 262.0,263.0" fill="none" stroke="#a2a2aa" stroke-width="4.6" stroke-linecap="round" stroke-linejoin="round"/>
<path d="M164.0,250.0 C163.7,251.8 161.9,257.6 162.2,261.0 C162.5,264.4 163.4,268.1 165.9,270.3 C168.4,272.5 173.3,273.4 177.0,274.0 C180.7,274.6 184.0,274.6 188.0,274.0 C192.0,273.4 197.6,271.5 201.0,270.3 C204.4,269.1 205.6,268.2 208.4,266.6 C211.2,265.1 214.6,262.2 217.7,261.0 C220.8,259.8 224.2,259.2 227.0,259.2 C229.8,259.2 232.1,259.8 234.3,261.0 C236.5,262.2 237.8,265.1 240.0,266.6 C242.2,268.2 244.9,270.0 247.3,270.3 C249.8,270.6 252.2,269.6 254.7,268.4 C257.1,267.2 260.8,263.9 262.0,263.0" fill="none" stroke="#c4c4cc" stroke-width="1.9" stroke-linecap="round" stroke-linejoin="round" transform="translate(-0.3,-0.4)"/>
<path d="M158.5,257.3 C157.2,258.9 152.6,263.8 151.0,266.6 C149.4,269.4 148.9,271.2 149.2,274.0 C149.5,276.8 151.4,280.7 153.0,283.2 C154.6,285.7 156.3,287.2 158.5,288.8 C160.7,290.4 164.2,291.3 166.0,292.5 C167.8,293.7 169.6,294.9 169.6,296.2 C169.6,297.4 166.6,299.4 166.0,300.0" fill="none" stroke="#a2a2aa" stroke-width="4.6" stroke-linecap="round" stroke-linejoin="round"/>
<path d="M158.5,257.3 C157.2,258.9 152.6,263.8 151.0,266.6 C149.4,269.4 148.9,271.2 149.2,274.0 C149.5,276.8 151.4,280.7 153.0,283.2 C154.6,285.7 156.3,287.2 158.5,288.8 C160.7,290.4 164.2,291.3 166.0,292.5 C167.8,293.7 169.6,294.9 169.6,296.2 C169.6,297.4 166.6,299.4 166.0,300.0" fill="none" stroke="#c4c4cc" stroke-width="1.9" stroke-linecap="round" stroke-linejoin="round" transform="translate(-0.3,-0.4)"/>
<path d="M173.3,292.5 C175.2,291.9 180.7,289.7 184.4,288.8 C188.1,287.9 192.1,287.9 195.5,287.0 C198.9,286.1 202.8,284.8 204.7,283.2 C206.5,281.6 205.7,279.2 206.6,277.7 C207.5,276.2 208.2,274.0 210.3,274.0 C212.5,274.0 216.4,276.5 219.5,277.7 C222.6,278.9 226.0,280.5 228.8,281.4 C231.6,282.3 233.4,283.2 236.2,283.2 C239.0,283.2 242.3,282.0 245.4,281.4 C248.5,280.8 251.9,280.1 254.7,279.5 C257.5,278.9 260.8,278.0 262.0,277.7" fill="none" stroke="#a2a2aa" stroke-width="4.6" stroke-linecap="round" stroke-linejoin="round"/>
<path d="M173.3,292.5 C175.2,291.9 180.7,289.7 184.4,288.8 C188.1,287.9 192.1,287.9 195.5,287.0 C198.9,286.1 202.8,284.8 204.7,283.2 C206.5,281.6 205.7,279.2 206.6,277.7 C207.5,276.2 208.2,274.0 210.3,274.0 C212.5,274.0 216.4,276.5 219.5,277.7 C222.6,278.9 226.0,280.5 228.8,281.4 C231.6,282.3 233.4,283.2 236.2,283.2 C239.0,283.2 242.3,282.0 245.4,281.4 C248.5,280.8 251.9,280.1 254.7,279.5 C257.5,278.9 260.8,278.0 262.0,277.7" fill="none" stroke="#c4c4cc" stroke-width="1.9" stroke-linecap="round" stroke-linejoin="round" transform="translate(-0.3,-0.4)"/>
<path d="M199.2,251.8 C199.8,253.7 201.7,259.2 202.9,262.9 C204.1,266.6 205.1,270.6 206.6,274.0 C208.1,277.4 210.2,280.4 212.1,283.2 C213.9,286.0 216.5,288.1 217.7,290.6 C218.9,293.1 217.9,296.1 219.5,298.0 C221.1,299.9 224.2,300.8 227.0,301.7 C229.8,302.6 232.2,303.0 236.2,303.6 C240.2,304.2 248.5,305.1 251.0,305.4" fill="none" stroke="#a2a2aa" stroke-width="4.6" stroke-linecap="round" stroke-linejoin="round"/>
<path d="M199.2,251.8 C199.8,253.7 201.7,259.2 202.9,262.9 C204.1,266.6 205.1,270.6 206.6,274.0 C208.1,277.4 210.2,280.4 212.1,283.2 C213.9,286.0 216.5,288.1 217.7,290.6 C218.9,293.1 217.9,296.1 219.5,298.0 C221.1,299.9 224.2,300.8 227.0,301.7 C229.8,302.6 232.2,303.0 236.2,303.6 C240.2,304.2 248.5,305.1 251.0,305.4" fill="none" stroke="#c4c4cc" stroke-width="1.9" stroke-linecap="round" stroke-linejoin="round" transform="translate(-0.3,-0.4)"/>
<path d="M217.7,235.1 C218.9,236.3 221.9,240.3 225.0,242.5 C228.1,244.7 233.1,246.4 236.2,248.0 C239.3,249.6 241.8,250.6 243.6,251.8 C245.4,253.1 247.6,254.0 247.3,255.5 C247.0,257.0 242.6,260.1 241.7,261.0" fill="none" stroke="#a2a2aa" stroke-width="4.6" stroke-linecap="round" stroke-linejoin="round"/>
<path d="M217.7,235.1 C218.9,236.3 221.9,240.3 225.0,242.5 C228.1,244.7 233.1,246.4 236.2,248.0 C239.3,249.6 241.8,250.6 243.6,251.8 C245.4,253.1 247.6,254.0 247.3,255.5 C247.0,257.0 242.6,260.1 241.7,261.0" fill="none" stroke="#c4c4cc" stroke-width="1.9" stroke-linecap="round" stroke-linejoin="round" transform="translate(-0.3,-0.4)"/>
<path d="M260.0,228.0 C260.7,227.2 262.3,224.0 264.0,223.5 C265.7,223.0 268.8,223.9 270.0,225.0 C271.2,226.1 271.8,228.8 271.0,230.0 C270.2,231.2 266.8,232.3 265.0,232.0 C263.2,231.7 260.8,228.7 260.0,228.0" fill="none" stroke="#a2a2aa" stroke-width="4.6" stroke-linecap="round" stroke-linejoin="round"/>
<path d="M260.0,228.0 C260.7,227.2 262.3,224.0 264.0,223.5 C265.7,223.0 268.8,223.9 270.0,225.0 C271.2,226.1 271.8,228.8 271.0,230.0 C270.2,231.2 266.8,232.3 265.0,232.0 C263.2,231.7 260.8,228.7 260.0,228.0" fill="none" stroke="#c4c4cc" stroke-width="1.9" stroke-linecap="round" stroke-linejoin="round" transform="translate(-0.3,-0.4)"/>
<path d="M251.0,237.0 C252.2,236.7 255.9,235.1 258.4,235.1 C260.9,235.1 263.4,235.8 265.8,237.0 C268.2,238.2 271.1,240.0 273.0,242.5 C274.9,245.0 276.2,250.2 276.9,251.8" fill="none" stroke="#a2a2aa" stroke-width="4.6" stroke-linecap="round" stroke-linejoin="round"/>
<path d="M251.0,237.0 C252.2,236.7 255.9,235.1 258.4,235.1 C260.9,235.1 263.4,235.8 265.8,237.0 C268.2,238.2 271.1,240.0 273.0,242.5 C274.9,245.0 276.2,250.2 276.9,251.8" fill="none" stroke="#c4c4cc" stroke-width="1.9" stroke-linecap="round" stroke-linejoin="round" transform="translate(-0.3,-0.4)"/>
<path d="M285.0,210.4 C286.1,209.4 288.2,205.4 291.3,204.4 C294.4,203.4 299.4,204.4 303.5,204.4 C307.6,204.4 312.6,205.4 315.7,204.4 C318.8,203.4 320.3,200.9 321.8,198.3 C323.3,195.7 324.8,192.1 324.8,189.0 C324.8,185.9 322.3,181.5 321.8,180.0" fill="none" stroke="#a2a2aa" stroke-width="4.6" stroke-linecap="round" stroke-linejoin="round"/>
<path d="M285.0,210.4 C286.1,209.4 288.2,205.4 291.3,204.4 C294.4,203.4 299.4,204.4 303.5,204.4 C307.6,204.4 312.6,205.4 315.7,204.4 C318.8,203.4 320.3,200.9 321.8,198.3 C323.3,195.7 324.8,192.1 324.8,189.0 C324.8,185.9 322.3,181.5 321.8,180.0" fill="none" stroke="#c4c4cc" stroke-width="1.9" stroke-linecap="round" stroke-linejoin="round" transform="translate(-0.3,-0.4)"/>
<path d="M315.7,204.4 C314.2,205.9 309.0,210.5 306.5,213.5 C304.0,216.5 302.0,219.0 300.5,222.6 C299.0,226.2 297.4,230.7 297.4,234.8 C297.4,238.9 298.5,243.4 300.5,247.0 C302.5,250.6 308.1,254.6 309.6,256.1" fill="none" stroke="#a2a2aa" stroke-width="4.6" stroke-linecap="round" stroke-linejoin="round"/>
<path d="M315.7,204.4 C314.2,205.9 309.0,210.5 306.5,213.5 C304.0,216.5 302.0,219.0 300.5,222.6 C299.0,226.2 297.4,230.7 297.4,234.8 C297.4,238.9 298.5,243.4 300.5,247.0 C302.5,250.6 308.1,254.6 309.6,256.1" fill="none" stroke="#c4c4cc" stroke-width="1.9" stroke-linecap="round" stroke-linejoin="round" transform="translate(-0.3,-0.4)"/>
<path d="M239.6,231.7 C241.6,231.2 247.6,229.7 251.7,228.7 C255.8,227.7 260.9,225.2 264.0,225.7 C267.1,226.2 269.5,229.2 270.0,231.7 C270.5,234.2 269.0,238.3 267.0,240.9 C265.0,243.5 260.9,244.5 257.8,247.0 C254.8,249.5 249.7,252.6 248.7,256.1 C247.7,259.7 249.7,265.2 251.7,268.3 C253.7,271.4 257.3,273.9 260.9,274.4 C264.4,274.9 269.4,272.8 273.0,271.3 C276.6,269.8 279.1,266.7 282.2,265.2 C285.2,263.7 288.8,262.2 291.3,262.2 C293.8,262.2 296.4,264.7 297.4,265.2" fill="none" stroke="#a2a2aa" stroke-width="4.6" stroke-linecap="round" stroke-linejoin="round"/>
<path d="M239.6,231.7 C241.6,231.2 247.6,229.7 251.7,228.7 C255.8,227.7 260.9,225.2 264.0,225.7 C267.1,226.2 269.5,229.2 270.0,231.7 C270.5,234.2 269.0,238.3 267.0,240.9 C265.0,243.5 260.9,244.5 257.8,247.0 C254.8,249.5 249.7,252.6 248.7,256.1 C247.7,259.7 249.7,265.2 251.7,268.3 C253.7,271.4 257.3,273.9 260.9,274.4 C264.4,274.9 269.4,272.8 273.0,271.3 C276.6,269.8 279.1,266.7 282.2,265.2 C285.2,263.7 288.8,262.2 291.3,262.2 C293.8,262.2 296.4,264.7 297.4,265.2" fill="none" stroke="#c4c4cc" stroke-width="1.9" stroke-linecap="round" stroke-linejoin="round" transform="translate(-0.3,-0.4)"/>
<path d="M230.4,256.1 C232.4,256.6 239.3,259.1 242.6,259.1 C245.9,259.1 248.8,256.5 250.0,256.0" fill="none" stroke="#a2a2aa" stroke-width="4.6" stroke-linecap="round" stroke-linejoin="round"/>
<path d="M230.4,256.1 C232.4,256.6 239.3,259.1 242.6,259.1 C245.9,259.1 248.8,256.5 250.0,256.0" fill="none" stroke="#c4c4cc" stroke-width="1.9" stroke-linecap="round" stroke-linejoin="round" transform="translate(-0.3,-0.4)"/>
<path d="M276.1,240.9 C277.6,241.9 282.7,245.0 285.2,247.0 C287.7,249.0 288.8,251.5 291.3,253.0 C293.9,254.5 299.0,255.6 300.5,256.1" fill="none" stroke="#a2a2aa" stroke-width="4.6" stroke-linecap="round" stroke-linejoin="round"/>
<path d="M276.1,240.9 C277.6,241.9 282.7,245.0 285.2,247.0 C287.7,249.0 288.8,251.5 291.3,253.0 C293.9,254.5 299.0,255.6 300.5,256.1" fill="none" stroke="#c4c4cc" stroke-width="1.9" stroke-linecap="round" stroke-linejoin="round" transform="translate(-0.3,-0.4)"/>
<path d="M267.0,280.5 C268.5,281.0 272.1,283.5 276.1,283.5 C280.2,283.5 286.7,280.5 291.3,280.5 C295.9,280.5 299.4,281.5 303.5,283.5 C307.6,285.5 311.6,290.1 315.7,292.6 C319.8,295.1 325.9,297.7 327.9,298.7" fill="none" stroke="#a2a2aa" stroke-width="4.6" stroke-linecap="round" stroke-linejoin="round"/>
<path d="M267.0,280.5 C268.5,281.0 272.1,283.5 276.1,283.5 C280.2,283.5 286.7,280.5 291.3,280.5 C295.9,280.5 299.4,281.5 303.5,283.5 C307.6,285.5 311.6,290.1 315.7,292.6 C319.8,295.1 325.9,297.7 327.9,298.7" fill="none" stroke="#c4c4cc" stroke-width="1.9" stroke-linecap="round" stroke-linejoin="round" transform="translate(-0.3,-0.4)"/>
<path d="M218.3,280.5 C220.8,281.0 227.9,283.5 233.5,283.5 C239.1,283.5 247.1,282.0 251.7,280.5 C256.3,279.0 259.4,275.4 260.9,274.4" fill="none" stroke="#a2a2aa" stroke-width="4.6" stroke-linecap="round" stroke-linejoin="round"/>
<path d="M218.3,280.5 C220.8,281.0 227.9,283.5 233.5,283.5 C239.1,283.5 247.1,282.0 251.7,280.5 C256.3,279.0 259.4,275.4 260.9,274.4" fill="none" stroke="#c4c4cc" stroke-width="1.9" stroke-linecap="round" stroke-linejoin="round" transform="translate(-0.3,-0.4)"/>
<path d="M215.2,295.7 C216.7,296.7 219.3,300.3 224.4,301.8 C229.5,303.3 238.6,303.3 245.7,304.8 C252.8,306.3 260.9,309.4 267.0,310.9 C273.1,312.4 276.6,312.4 282.2,313.9 C287.8,315.4 293.9,318.0 300.5,320.0 C307.1,322.0 316.2,325.6 321.8,326.1 C327.4,326.6 329.9,325.0 334.0,323.0 C338.1,321.0 342.4,315.2 346.1,314.0 C349.8,312.8 354.4,315.7 356.0,316.0" fill="none" stroke="#a2a2aa" stroke-width="4.6" stroke-linecap="round" stroke-linejoin="round"/>
<path d="M215.2,295.7 C216.7,296.7 219.3,300.3 224.4,301.8 C229.5,303.3 238.6,303.3 245.7,304.8 C252.8,306.3 260.9,309.4 267.0,310.9 C273.1,312.4 276.6,312.4 282.2,313.9 C287.8,315.4 293.9,318.0 300.5,320.0 C307.1,322.0 316.2,325.6 321.8,326.1 C327.4,326.6 329.9,325.0 334.0,323.0 C338.1,321.0 342.4,315.2 346.1,314.0 C349.8,312.8 354.4,315.7 356.0,316.0" fill="none" stroke="#c4c4cc" stroke-width="1.9" stroke-linecap="round" stroke-linejoin="round" transform="translate(-0.3,-0.4)"/>
<path d="M276.6,314.0 C277.8,315.2 282.8,318.6 284.0,321.4 C285.2,324.2 284.6,327.6 284.0,330.7 C283.4,333.8 280.4,336.9 280.3,340.0 C280.2,343.1 281.3,346.0 283.7,349.0 C286.1,352.0 292.5,355.0 294.9,358.0 C297.3,361.0 298.1,363.3 298.3,367.0 C298.5,370.7 296.4,375.9 296.0,380.4 C295.6,384.9 295.6,390.5 296.0,393.9 C296.4,397.3 296.6,399.1 298.3,400.6 C300.0,402.1 302.9,403.3 306.1,402.9 C309.3,402.5 313.6,400.1 317.4,398.4 C321.1,396.7 325.6,392.6 328.6,392.8 C331.6,393.0 332.7,397.1 335.3,399.5 C337.9,401.9 341.7,405.9 344.3,407.4 C346.9,408.9 349.4,409.2 351.0,408.5 C352.6,407.8 353.3,406.1 353.7,402.9 C354.1,399.7 354.1,393.5 353.3,389.4 C352.5,385.3 350.7,381.6 348.8,378.2 C346.9,374.8 343.4,371.8 342.1,369.2 C340.8,366.6 340.2,364.8 341.0,362.5 C341.8,360.2 345.1,357.4 346.6,355.7 C348.1,354.0 350.0,353.5 350.0,352.4 C350.0,351.3 349.1,349.9 346.6,349.0 C344.2,348.1 338.3,347.6 335.3,346.7 C332.3,345.8 330.1,344.5 328.6,343.4 C327.1,342.3 326.7,341.5 326.4,340.0 C326.1,338.5 326.0,336.6 326.6,334.4 C327.2,332.2 329.7,328.2 330.3,327.0" fill="none" stroke="#a2a2aa" stroke-width="4.6" stroke-linecap="round" stroke-linejoin="round"/>
<path d="M276.6,314.0 C277.8,315.2 282.8,318.6 284.0,321.4 C285.2,324.2 284.6,327.6 284.0,330.7 C283.4,333.8 280.4,336.9 280.3,340.0 C280.2,343.1 281.3,346.0 283.7,349.0 C286.1,352.0 292.5,355.0 294.9,358.0 C297.3,361.0 298.1,363.3 298.3,367.0 C298.5,370.7 296.4,375.9 296.0,380.4 C295.6,384.9 295.6,390.5 296.0,393.9 C296.4,397.3 296.6,399.1 298.3,400.6 C300.0,402.1 302.9,403.3 306.1,402.9 C309.3,402.5 313.6,400.1 317.4,398.4 C321.1,396.7 325.6,392.6 328.6,392.8 C331.6,393.0 332.7,397.1 335.3,399.5 C337.9,401.9 341.7,405.9 344.3,407.4 C346.9,408.9 349.4,409.2 351.0,408.5 C352.6,407.8 353.3,406.1 353.7,402.9 C354.1,399.7 354.1,393.5 353.3,389.4 C352.5,385.3 350.7,381.6 348.8,378.2 C346.9,374.8 343.4,371.8 342.1,369.2 C340.8,366.6 340.2,364.8 341.0,362.5 C341.8,360.2 345.1,357.4 346.6,355.7 C348.1,354.0 350.0,353.5 350.0,352.4 C350.0,351.3 349.1,349.9 346.6,349.0 C344.2,348.1 338.3,347.6 335.3,346.7 C332.3,345.8 330.1,344.5 328.6,343.4 C327.1,342.3 326.7,341.5 326.4,340.0 C326.1,338.5 326.0,336.6 326.6,334.4 C327.2,332.2 329.7,328.2 330.3,327.0" fill="none" stroke="#c4c4cc" stroke-width="1.9" stroke-linecap="round" stroke-linejoin="round" transform="translate(-0.3,-0.4)"/>
<path d="M276.1,289.6 C275.6,290.6 273.5,293.7 273.0,295.7 C272.5,297.7 273.0,300.8 273.0,301.8" fill="none" stroke="#a2a2aa" stroke-width="4.6" stroke-linecap="round" stroke-linejoin="round"/>
<path d="M276.1,289.6 C275.6,290.6 273.5,293.7 273.0,295.7 C272.5,297.7 273.0,300.8 273.0,301.8" fill="none" stroke="#c4c4cc" stroke-width="1.9" stroke-linecap="round" stroke-linejoin="round" transform="translate(-0.3,-0.4)"/>
<path d="M200.0,271.3 C201.0,272.3 204.1,274.9 206.1,277.4 C208.1,279.9 210.7,283.4 212.2,286.5 C213.7,289.6 214.7,294.2 215.2,295.7" fill="none" stroke="#a2a2aa" stroke-width="4.6" stroke-linecap="round" stroke-linejoin="round"/>
<path d="M200.0,271.3 C201.0,272.3 204.1,274.9 206.1,277.4 C208.1,279.9 210.7,283.4 212.2,286.5 C213.7,289.6 214.7,294.2 215.2,295.7" fill="none" stroke="#c4c4cc" stroke-width="1.9" stroke-linecap="round" stroke-linejoin="round" transform="translate(-0.3,-0.4)"/>
<path d="M230.4,240.9 C228.4,241.9 222.4,244.5 218.3,247.0 C214.2,249.5 208.1,254.6 206.1,256.1" fill="none" stroke="#a2a2aa" stroke-width="4.6" stroke-linecap="round" stroke-linejoin="round"/>
<path d="M230.4,240.9 C228.4,241.9 222.4,244.5 218.3,247.0 C214.2,249.5 208.1,254.6 206.1,256.1" fill="none" stroke="#c4c4cc" stroke-width="1.9" stroke-linecap="round" stroke-linejoin="round" transform="translate(-0.3,-0.4)"/>
<path d="M346.1,244.0 C348.6,245.0 357.8,247.0 361.3,250.0 C364.9,253.0 366.9,257.6 367.4,262.2 C367.9,266.8 364.6,272.8 364.4,277.4 C364.1,282.0 363.9,286.1 365.9,289.6 C367.9,293.2 373.3,295.6 376.6,298.7 C379.9,301.8 384.7,305.3 385.7,307.9 C386.7,310.4 385.1,312.5 382.6,314.0 C380.1,315.5 374.6,316.8 370.5,317.0 C366.4,317.2 360.3,315.8 358.3,315.5" fill="none" stroke="#a2a2aa" stroke-width="4.6" stroke-linecap="round" stroke-linejoin="round"/>
<path d="M346.1,244.0 C348.6,245.0 357.8,247.0 361.3,250.0 C364.9,253.0 366.9,257.6 367.4,262.2 C367.9,266.8 364.6,272.8 364.4,277.4 C364.1,282.0 363.9,286.1 365.9,289.6 C367.9,293.2 373.3,295.6 376.6,298.7 C379.9,301.8 384.7,305.3 385.7,307.9 C386.7,310.4 385.1,312.5 382.6,314.0 C380.1,315.5 374.6,316.8 370.5,317.0 C366.4,317.2 360.3,315.8 358.3,315.5" fill="none" stroke="#c4c4cc" stroke-width="1.9" stroke-linecap="round" stroke-linejoin="round" transform="translate(-0.3,-0.4)"/>
<defs>
<linearGradient id="gs1" x1="0" y1="0" x2="0.35" y2="1"><stop offset="0" stop-color="#ec7026"/><stop offset="0.6" stop-color="#ee7c2c"/><stop offset="0.8" stop-color="#f09434"/><stop offset="1" stop-color="#f2a63a"/></linearGradient>
<linearGradient id="gs2" x1="0" y1="0" x2="0.3" y2="1"><stop offset="0" stop-color="#f0b63a"/><stop offset="0.35" stop-color="#f2d24a"/><stop offset="0.6" stop-color="#f0c040"/><stop offset="0.75" stop-color="#f2aa38"/><stop offset="1" stop-color="#f0a236"/></linearGradient>
<linearGradient id="gs3" x1="0" y1="0" x2="0.45" y2="1"><stop offset="0" stop-color="#f2d24a"/><stop offset="0.45" stop-color="#f2cc44"/><stop offset="0.65" stop-color="#ef8a30"/><stop offset="1" stop-color="#ec7628"/></linearGradient>
<linearGradient id="gs4" x1="0" y1="0" x2="0.5" y2="1"><stop offset="0" stop-color="#f2d84e"/><stop offset="0.4" stop-color="#f2cc44"/><stop offset="0.6" stop-color="#ee842c"/><stop offset="1" stop-color="#ec7428"/></linearGradient>
<linearGradient id="gr" x1="0" y1="0" x2="0.25" y2="1"><stop offset="0" stop-color="#f4ea5c"/><stop offset="0.45" stop-color="#f2d040"/><stop offset="0.75" stop-color="#f2a030"/><stop offset="1" stop-color="#ee7a22"/></linearGradient>
<linearGradient id="gor" x1="0" y1="0" x2="1" y2="0.2"><stop offset="0" stop-color="#c0521c"/><stop offset="1" stop-color="#dc6a26"/></linearGradient>
</defs>
<polygon points="206.7,157.0 220.0,160.6 224.0,159.5 226.0,161.0 267.0,198.5 252.9,210.8 207.9,169.4" fill="url(#gs4)" stroke="#5a2a10" stroke-width="0.5" opacity="1" stroke-linejoin="round"/>
<polygon points="182.3,151.5 202.3,157.0 207.5,166.0 249.3,214.4 235.2,227.6 182.3,160.6" fill="url(#gs3)" stroke="#5a2a10" stroke-width="0.5" opacity="1" stroke-linejoin="round"/>
<polygon points="163.4,153.0 181.0,150.5 183.0,157.0 228.2,232.9 208.8,243.5 165.0,169.5" fill="url(#gs2)" stroke="#5a2a10" stroke-width="0.5" opacity="1" stroke-linejoin="round"/>
<polygon points="147.3,158.0 167.5,167.0 165.5,169.5 207.9,247.0 190.3,255.8 146.2,177.6 142.3,178.7" fill="url(#gs1)" stroke="#5a2a10" stroke-width="0.5" opacity="1" stroke-linejoin="round"/>
<path d="M190,212 L210,199 L230,190 L246,182" stroke="#8a6040" stroke-width="9" fill="none" opacity="0.45" stroke-linecap="butt"/>
<path d="M163,180 C170,176 175,172 180,166 C184,160 190,156 198,154" stroke="#8a8068" stroke-width="3" fill="none" opacity="0.6"/>
<path d="M148,190 C156,186 162,184 168,181" stroke="#a04a30" stroke-width="2.2" fill="none" opacity="0.6"/>
<path d="M205,178 C214,172 222,166 232,162" stroke="#8a8068" stroke-width="3" fill="none" opacity="0.5"/>
<path d="M176,232 L196,224" stroke="#9a6a58" stroke-width="8" fill="none" opacity="0.45"/>
<ellipse cx="180" cy="229" rx="6" ry="5" fill="#d8a8b0" opacity="0.6"/>
<ellipse cx="197" cy="252" rx="4" ry="4" fill="#d8a8b0" opacity="0.5"/>
<ellipse cx="218" cy="236" rx="3" ry="3" fill="#d8a8b0" opacity="0.5"/>
<line x1="166.5" y1="167.6" x2="207.9" y2="247" stroke="#3a1a08" stroke-width="1.1"/>
<line x1="182.3" y1="160.6" x2="228.2" y2="232.9" stroke="#3a1a08" stroke-width="1.1"/>
<line x1="207.9" y1="169.4" x2="249.3" y2="214.4" stroke="#3a1a08" stroke-width="1.1"/>
<line x1="226" y1="161" x2="267" y2="198.5" stroke="#3a1a08" stroke-width="1.1"/>
<line x1="190.3" y1="255.8" x2="207.9" y2="247" stroke="#5a2a10" stroke-width="1.4"/>
<line x1="208.8" y1="243.5" x2="228.2" y2="232.9" stroke="#5a2a10" stroke-width="1.4"/>
<line x1="235.2" y1="227.6" x2="249.3" y2="214.4" stroke="#5a2a10" stroke-width="1.4"/>
<line x1="252.9" y1="210.8" x2="267" y2="198.5" stroke="#5a2a10" stroke-width="1.4"/>
<path d="M197.0,154.0 C197.2,152.7 197.2,147.8 198.0,146.0 C198.8,144.2 200.8,142.8 202.0,143.0 C203.2,143.2 204.5,145.2 205.0,147.0 C205.5,148.8 205.0,152.8 205.0,154.0" fill="none" stroke="#a0501a" stroke-width="2.4" stroke-linecap="round" stroke-linejoin="round"/>
<path d="M197.0,154.0 C197.2,152.7 197.2,147.8 198.0,146.0 C198.8,144.2 200.8,142.8 202.0,143.0 C203.2,143.2 204.5,145.2 205.0,147.0 C205.5,148.8 205.0,152.8 205.0,154.0" fill="none" stroke="#d88040" stroke-width="1.0" stroke-linecap="round" stroke-linejoin="round" transform="translate(-0.3,-0.4)"/>
<path d="M488.0,37.9 C486.9,39.2 483.1,42.8 481.3,45.9 C479.5,49.0 477.4,52.9 477.4,56.4 C477.4,59.9 478.9,64.8 481.3,67.0 C483.7,69.2 489.7,68.3 491.9,69.6 C494.1,70.9 494.9,72.7 494.5,74.9 C494.1,77.1 491.9,81.0 489.3,82.8 C486.7,84.6 481.4,83.7 478.7,85.5 C476.0,87.3 474.7,91.2 473.4,93.4 C472.1,95.6 473.0,97.4 470.8,98.7 C468.6,100.0 463.7,99.5 460.2,101.3 C456.7,103.1 452.7,105.8 449.6,109.3 C446.5,112.8 443.9,118.1 441.7,122.5 C439.5,126.9 437.7,131.3 436.4,135.7 C435.1,140.1 433.9,144.8 433.8,148.9 C433.7,153.0 435.3,156.8 435.8,160.5 C436.3,164.2 437.2,167.0 437.0,170.8 C436.8,174.7 436.2,180.8 434.5,183.6 C432.8,186.4 429.2,186.1 426.8,187.4 C424.4,188.7 420.4,190.4 420.4,191.3 C420.4,192.2 424.2,193.0 426.8,192.6 C429.4,192.2 433.5,188.5 435.8,188.7 C438.1,188.9 439.2,192.7 440.9,193.8 C442.6,194.9 444.5,194.2 446.0,195.1 C447.5,196.0 449.2,198.3 449.9,199.0" fill="none" stroke="#a2a2aa" stroke-width="4.6" stroke-linecap="round" stroke-linejoin="round"/>
<path d="M488.0,37.9 C486.9,39.2 483.1,42.8 481.3,45.9 C479.5,49.0 477.4,52.9 477.4,56.4 C477.4,59.9 478.9,64.8 481.3,67.0 C483.7,69.2 489.7,68.3 491.9,69.6 C494.1,70.9 494.9,72.7 494.5,74.9 C494.1,77.1 491.9,81.0 489.3,82.8 C486.7,84.6 481.4,83.7 478.7,85.5 C476.0,87.3 474.7,91.2 473.4,93.4 C472.1,95.6 473.0,97.4 470.8,98.7 C468.6,100.0 463.7,99.5 460.2,101.3 C456.7,103.1 452.7,105.8 449.6,109.3 C446.5,112.8 443.9,118.1 441.7,122.5 C439.5,126.9 437.7,131.3 436.4,135.7 C435.1,140.1 433.9,144.8 433.8,148.9 C433.7,153.0 435.3,156.8 435.8,160.5 C436.3,164.2 437.2,167.0 437.0,170.8 C436.8,174.7 436.2,180.8 434.5,183.6 C432.8,186.4 429.2,186.1 426.8,187.4 C424.4,188.7 420.4,190.4 420.4,191.3 C420.4,192.2 424.2,193.0 426.8,192.6 C429.4,192.2 433.5,188.5 435.8,188.7 C438.1,188.9 439.2,192.7 440.9,193.8 C442.6,194.9 444.5,194.2 446.0,195.1 C447.5,196.0 449.2,198.3 449.9,199.0" fill="none" stroke="#c4c4cc" stroke-width="1.9" stroke-linecap="round" stroke-linejoin="round" transform="translate(-0.3,-0.4)"/>
<path d="M433.2,191.3 C432.8,193.4 430.6,199.8 430.6,204.1 C430.6,208.4 431.9,212.7 433.2,217.0 C434.5,221.3 436.6,225.4 438.3,229.7 C440.0,234.0 442.2,238.3 443.5,242.6 C444.8,246.9 445.6,252.0 446.0,255.4 C446.4,258.8 446.0,261.7 446.0,263.0" fill="none" stroke="#a2a2aa" stroke-width="4.6" stroke-linecap="round" stroke-linejoin="round"/>
<path d="M433.2,191.3 C432.8,193.4 430.6,199.8 430.6,204.1 C430.6,208.4 431.9,212.7 433.2,217.0 C434.5,221.3 436.6,225.4 438.3,229.7 C440.0,234.0 442.2,238.3 443.5,242.6 C444.8,246.9 445.6,252.0 446.0,255.4 C446.4,258.8 446.0,261.7 446.0,263.0" fill="none" stroke="#c4c4cc" stroke-width="1.9" stroke-linecap="round" stroke-linejoin="round" transform="translate(-0.3,-0.4)"/>
<path d="M534.2,37.9 C533.3,39.2 531.1,43.7 528.9,45.9 C526.7,48.1 523.6,49.4 521.0,51.1 C518.4,52.9 515.2,54.6 513.0,56.4 C510.8,58.2 510.0,59.9 507.8,61.7 C505.6,63.5 502.0,65.2 499.8,67.0 C497.6,68.8 495.4,71.4 494.5,72.3" fill="none" stroke="#a2a2aa" stroke-width="4.6" stroke-linecap="round" stroke-linejoin="round"/>
<path d="M534.2,37.9 C533.3,39.2 531.1,43.7 528.9,45.9 C526.7,48.1 523.6,49.4 521.0,51.1 C518.4,52.9 515.2,54.6 513.0,56.4 C510.8,58.2 510.0,59.9 507.8,61.7 C505.6,63.5 502.0,65.2 499.8,67.0 C497.6,68.8 495.4,71.4 494.5,72.3" fill="none" stroke="#c4c4cc" stroke-width="1.9" stroke-linecap="round" stroke-linejoin="round" transform="translate(-0.3,-0.4)"/>
<path d="M494.5,72.3 C496.7,74.0 503.4,80.2 507.8,82.8 C512.2,85.4 517.5,85.4 521.0,88.1 C524.5,90.8 528.0,95.2 528.9,98.7 C529.8,102.2 527.5,106.2 526.2,109.3 C524.9,112.4 522.8,114.6 521.0,117.2 C519.2,119.8 517.0,122.5 515.7,125.1 C514.4,127.7 513.5,131.7 513.0,133.0" fill="none" stroke="#a2a2aa" stroke-width="4.6" stroke-linecap="round" stroke-linejoin="round"/>
<path d="M494.5,72.3 C496.7,74.0 503.4,80.2 507.8,82.8 C512.2,85.4 517.5,85.4 521.0,88.1 C524.5,90.8 528.0,95.2 528.9,98.7 C529.8,102.2 527.5,106.2 526.2,109.3 C524.9,112.4 522.8,114.6 521.0,117.2 C519.2,119.8 517.0,122.5 515.7,125.1 C514.4,127.7 513.5,131.7 513.0,133.0" fill="none" stroke="#c4c4cc" stroke-width="1.9" stroke-linecap="round" stroke-linejoin="round" transform="translate(-0.3,-0.4)"/>
<path d="M523.6,53.8 C524.5,55.5 527.6,60.3 528.9,64.3 C530.2,68.3 532.0,73.2 531.5,77.6 C531.0,82.0 527.1,88.6 526.2,90.8" fill="none" stroke="#a2a2aa" stroke-width="4.6" stroke-linecap="round" stroke-linejoin="round"/>
<path d="M523.6,53.8 C524.5,55.5 527.6,60.3 528.9,64.3 C530.2,68.3 532.0,73.2 531.5,77.6 C531.0,82.0 527.1,88.6 526.2,90.8" fill="none" stroke="#c4c4cc" stroke-width="1.9" stroke-linecap="round" stroke-linejoin="round" transform="translate(-0.3,-0.4)"/>
<path d="M468.1,114.5 C468.6,113.6 469.0,110.4 470.8,109.3 C472.6,108.2 476.1,108.0 478.7,108.0 C481.3,108.0 484.8,107.8 486.6,109.3 C488.4,110.8 488.4,114.1 489.3,117.2 C490.2,120.3 490.6,124.7 491.9,127.8 C493.2,130.9 495.0,133.5 497.2,135.7 C499.4,137.9 503.8,140.1 505.1,141.0" fill="none" stroke="#a2a2aa" stroke-width="4.6" stroke-linecap="round" stroke-linejoin="round"/>
<path d="M468.1,114.5 C468.6,113.6 469.0,110.4 470.8,109.3 C472.6,108.2 476.1,108.0 478.7,108.0 C481.3,108.0 484.8,107.8 486.6,109.3 C488.4,110.8 488.4,114.1 489.3,117.2 C490.2,120.3 490.6,124.7 491.9,127.8 C493.2,130.9 495.0,133.5 497.2,135.7 C499.4,137.9 503.8,140.1 505.1,141.0" fill="none" stroke="#c4c4cc" stroke-width="1.9" stroke-linecap="round" stroke-linejoin="round" transform="translate(-0.3,-0.4)"/>
<path d="M468.1,114.5 C468.6,117.2 469.0,125.6 470.8,130.4 C472.6,135.2 475.6,140.1 478.7,143.6 C481.8,147.1 485.8,149.3 489.3,151.5 C492.8,153.7 498.1,155.9 499.8,156.8" fill="none" stroke="#a2a2aa" stroke-width="4.6" stroke-linecap="round" stroke-linejoin="round"/>
<path d="M468.1,114.5 C468.6,117.2 469.0,125.6 470.8,130.4 C472.6,135.2 475.6,140.1 478.7,143.6 C481.8,147.1 485.8,149.3 489.3,151.5 C492.8,153.7 498.1,155.9 499.8,156.8" fill="none" stroke="#c4c4cc" stroke-width="1.9" stroke-linecap="round" stroke-linejoin="round" transform="translate(-0.3,-0.4)"/>
<path d="M474.2,140.0 C475.5,141.3 478.9,145.8 481.9,147.7 C484.9,149.6 488.8,150.2 492.2,151.5 C495.6,152.8 499.0,154.3 502.4,155.4 C505.8,156.5 509.7,156.3 512.7,158.0 C515.7,159.7 518.3,163.0 520.4,165.6 C522.5,168.2 524.6,172.0 525.5,173.3" fill="none" stroke="#a2a2aa" stroke-width="4.6" stroke-linecap="round" stroke-linejoin="round"/>
<path d="M474.2,140.0 C475.5,141.3 478.9,145.8 481.9,147.7 C484.9,149.6 488.8,150.2 492.2,151.5 C495.6,152.8 499.0,154.3 502.4,155.4 C505.8,156.5 509.7,156.3 512.7,158.0 C515.7,159.7 518.3,163.0 520.4,165.6 C522.5,168.2 524.6,172.0 525.5,173.3" fill="none" stroke="#c4c4cc" stroke-width="1.9" stroke-linecap="round" stroke-linejoin="round" transform="translate(-0.3,-0.4)"/>
<path d="M558.0,38.8 C558.4,40.0 559.7,42.1 560.4,46.0 C561.1,49.9 561.5,56.7 562.0,62.0 C562.5,67.3 563.2,72.7 563.7,78.0 C564.2,83.3 564.8,88.7 565.3,94.0 C565.8,99.3 566.6,107.3 566.9,110.0" fill="none" stroke="#a2a2aa" stroke-width="4.6" stroke-linecap="round" stroke-linejoin="round"/>
<path d="M558.0,38.8 C558.4,40.0 559.7,42.1 560.4,46.0 C561.1,49.9 561.5,56.7 562.0,62.0 C562.5,67.3 563.2,72.7 563.7,78.0 C564.2,83.3 564.8,88.7 565.3,94.0 C565.8,99.3 566.6,107.3 566.9,110.0" fill="none" stroke="#c4c4cc" stroke-width="1.9" stroke-linecap="round" stroke-linejoin="round" transform="translate(-0.3,-0.4)"/>
<path d="M557.2,82.9 C557.7,82.6 559.3,80.0 560.4,81.3 C561.5,82.6 563.7,88.0 563.7,90.9 C563.7,93.8 560.7,96.5 560.4,98.9 C560.1,101.3 561.7,104.2 562.0,105.3" fill="none" stroke="#a2a2aa" stroke-width="4.6" stroke-linecap="round" stroke-linejoin="round"/>
<path d="M557.2,82.9 C557.7,82.6 559.3,80.0 560.4,81.3 C561.5,82.6 563.7,88.0 563.7,90.9 C563.7,93.8 560.7,96.5 560.4,98.9 C560.1,101.3 561.7,104.2 562.0,105.3" fill="none" stroke="#c4c4cc" stroke-width="1.9" stroke-linecap="round" stroke-linejoin="round" transform="translate(-0.3,-0.4)"/>
<path d="M587.7,37.2 C587.2,37.9 585.3,39.7 584.5,41.2 C583.7,42.7 584.2,44.7 582.9,46.0 C581.6,47.3 578.6,47.6 576.5,49.2 C574.4,50.8 571.3,52.6 570.0,55.6 C568.7,58.6 568.8,63.2 568.5,66.9 C568.2,70.6 568.0,74.8 568.5,78.0 C569.0,81.2 571.5,82.8 571.7,86.0 C572.0,89.2 570.5,93.8 570.0,97.3 C569.5,100.8 568.8,105.4 568.5,107.0" fill="none" stroke="#a2a2aa" stroke-width="4.6" stroke-linecap="round" stroke-linejoin="round"/>
<path d="M587.7,37.2 C587.2,37.9 585.3,39.7 584.5,41.2 C583.7,42.7 584.2,44.7 582.9,46.0 C581.6,47.3 578.6,47.6 576.5,49.2 C574.4,50.8 571.3,52.6 570.0,55.6 C568.7,58.6 568.8,63.2 568.5,66.9 C568.2,70.6 568.0,74.8 568.5,78.0 C569.0,81.2 571.5,82.8 571.7,86.0 C572.0,89.2 570.5,93.8 570.0,97.3 C569.5,100.8 568.8,105.4 568.5,107.0" fill="none" stroke="#c4c4cc" stroke-width="1.9" stroke-linecap="round" stroke-linejoin="round" transform="translate(-0.3,-0.4)"/>
<path d="M582.9,46.0 C582.6,47.6 581.3,52.4 581.3,55.6 C581.3,58.8 581.6,63.1 582.9,65.3 C584.2,67.5 586.9,69.0 589.3,68.5 C591.7,68.0 594.9,64.2 597.3,62.0 C599.7,59.9 601.6,57.5 603.7,55.6 C605.8,53.7 608.0,51.3 610.1,50.8 C612.2,50.3 615.4,52.1 616.5,52.4" fill="none" stroke="#a2a2aa" stroke-width="4.6" stroke-linecap="round" stroke-linejoin="round"/>
<path d="M582.9,46.0 C582.6,47.6 581.3,52.4 581.3,55.6 C581.3,58.8 581.6,63.1 582.9,65.3 C584.2,67.5 586.9,69.0 589.3,68.5 C591.7,68.0 594.9,64.2 597.3,62.0 C599.7,59.9 601.6,57.5 603.7,55.6 C605.8,53.7 608.0,51.3 610.1,50.8 C612.2,50.3 615.4,52.1 616.5,52.4" fill="none" stroke="#c4c4cc" stroke-width="1.9" stroke-linecap="round" stroke-linejoin="round" transform="translate(-0.3,-0.4)"/>
<path d="M592.5,36.4 C593.3,36.9 595.7,39.3 597.3,39.6 C598.9,39.9 600.8,38.5 602.1,38.0 C603.4,37.5 604.8,36.7 605.3,36.4" fill="none" stroke="#a2a2aa" stroke-width="4.6" stroke-linecap="round" stroke-linejoin="round"/>
<path d="M592.5,36.4 C593.3,36.9 595.7,39.3 597.3,39.6 C598.9,39.9 600.8,38.5 602.1,38.0 C603.4,37.5 604.8,36.7 605.3,36.4" fill="none" stroke="#c4c4cc" stroke-width="1.9" stroke-linecap="round" stroke-linejoin="round" transform="translate(-0.3,-0.4)"/>
<path d="M619.7,38.0 C620.2,39.3 622.7,43.3 623.0,46.0 C623.3,48.7 620.8,51.9 621.3,54.0 C621.8,56.1 624.6,57.5 626.2,58.8 C627.8,60.1 629.9,60.6 631.0,62.0 C632.1,63.4 633.1,65.3 632.6,66.9 C632.1,68.5 629.4,70.6 627.8,71.7 C626.2,72.8 623.8,73.0 623.0,73.3" fill="none" stroke="#a2a2aa" stroke-width="4.6" stroke-linecap="round" stroke-linejoin="round"/>
<path d="M619.7,38.0 C620.2,39.3 622.7,43.3 623.0,46.0 C623.3,48.7 620.8,51.9 621.3,54.0 C621.8,56.1 624.6,57.5 626.2,58.8 C627.8,60.1 629.9,60.6 631.0,62.0 C632.1,63.4 633.1,65.3 632.6,66.9 C632.1,68.5 629.4,70.6 627.8,71.7 C626.2,72.8 623.8,73.0 623.0,73.3" fill="none" stroke="#c4c4cc" stroke-width="1.9" stroke-linecap="round" stroke-linejoin="round" transform="translate(-0.3,-0.4)"/>
<path d="M623.0,76.5 C624.6,76.8 630.5,76.7 632.6,78.0 C634.7,79.3 635.0,81.8 635.8,84.5 C636.6,87.2 637.1,92.5 637.4,94.1" fill="none" stroke="#a2a2aa" stroke-width="4.6" stroke-linecap="round" stroke-linejoin="round"/>
<path d="M623.0,76.5 C624.6,76.8 630.5,76.7 632.6,78.0 C634.7,79.3 635.0,81.8 635.8,84.5 C636.6,87.2 637.1,92.5 637.4,94.1" fill="none" stroke="#c4c4cc" stroke-width="1.9" stroke-linecap="round" stroke-linejoin="round" transform="translate(-0.3,-0.4)"/>
<path d="M582.9,94.1 C583.4,93.6 584.9,91.3 586.0,91.0 C587.1,90.7 588.8,92.2 589.3,92.5" fill="none" stroke="#a2a2aa" stroke-width="4.6" stroke-linecap="round" stroke-linejoin="round"/>
<path d="M582.9,94.1 C583.4,93.6 584.9,91.3 586.0,91.0 C587.1,90.7 588.8,92.2 589.3,92.5" fill="none" stroke="#c4c4cc" stroke-width="1.9" stroke-linecap="round" stroke-linejoin="round" transform="translate(-0.3,-0.4)"/>
<path d="M530.0,38.0 C531.1,38.3 535.1,38.3 536.4,39.6 C537.7,40.9 538.0,43.6 538.0,46.0 C538.0,48.4 536.7,52.7 536.4,54.0" fill="none" stroke="#a2a2aa" stroke-width="4.6" stroke-linecap="round" stroke-linejoin="round"/>
<path d="M530.0,38.0 C531.1,38.3 535.1,38.3 536.4,39.6 C537.7,40.9 538.0,43.6 538.0,46.0 C538.0,48.4 536.7,52.7 536.4,54.0" fill="none" stroke="#c4c4cc" stroke-width="1.9" stroke-linecap="round" stroke-linejoin="round" transform="translate(-0.3,-0.4)"/>
<path d="M420.0,273.2 C421.8,272.5 427.3,270.1 430.9,269.0 C434.5,267.9 439.1,267.7 441.8,266.3 C444.5,264.9 446.8,263.6 447.2,260.9 C447.6,258.2 444.9,251.8 444.5,250.0" fill="none" stroke="#a2a2aa" stroke-width="4.6" stroke-linecap="round" stroke-linejoin="round"/>
<path d="M420.0,273.2 C421.8,272.5 427.3,270.1 430.9,269.0 C434.5,267.9 439.1,267.7 441.8,266.3 C444.5,264.9 446.8,263.6 447.2,260.9 C447.6,258.2 444.9,251.8 444.5,250.0" fill="none" stroke="#c4c4cc" stroke-width="1.9" stroke-linecap="round" stroke-linejoin="round" transform="translate(-0.3,-0.4)"/>
<path d="M469.0,285.4 C466.3,286.8 458.1,291.3 452.7,293.6 C447.2,295.9 440.9,298.8 436.3,299.0 C431.8,299.2 428.1,297.3 425.4,295.0 C422.7,292.7 420.8,288.6 420.0,285.4 C419.2,282.2 420.3,277.5 420.4,275.9" fill="none" stroke="#a2a2aa" stroke-width="4.6" stroke-linecap="round" stroke-linejoin="round"/>
<path d="M469.0,285.4 C466.3,286.8 458.1,291.3 452.7,293.6 C447.2,295.9 440.9,298.8 436.3,299.0 C431.8,299.2 428.1,297.3 425.4,295.0 C422.7,292.7 420.8,288.6 420.0,285.4 C419.2,282.2 420.3,277.5 420.4,275.9" fill="none" stroke="#c4c4cc" stroke-width="1.9" stroke-linecap="round" stroke-linejoin="round" transform="translate(-0.3,-0.4)"/>
<path d="M465.5,293.7 C467.1,295.0 472.1,299.0 475.4,301.6 C478.7,304.2 482.3,306.9 485.3,309.5 C488.3,312.1 491.2,314.9 493.2,317.5 C495.2,320.1 496.2,322.8 497.2,325.4 C498.2,328.0 497.9,331.0 499.2,333.3 C500.5,335.6 503.5,337.7 505.1,339.3 C506.7,340.9 509.0,341.9 509.0,343.2 C509.0,344.5 505.4,345.9 505.1,347.2 C504.8,348.5 505.8,351.1 507.1,351.1 C508.4,351.1 511.4,348.9 513.0,347.2 C514.6,345.5 515.3,342.8 517.0,341.2 C518.7,339.6 521.4,338.3 523.0,337.3 C524.6,336.3 526.2,335.0 526.9,335.3 C527.5,335.6 527.4,338.3 526.9,339.3 C526.4,340.3 524.5,340.9 524.0,341.2" fill="none" stroke="#a2a2aa" stroke-width="4.6" stroke-linecap="round" stroke-linejoin="round"/>
<path d="M465.5,293.7 C467.1,295.0 472.1,299.0 475.4,301.6 C478.7,304.2 482.3,306.9 485.3,309.5 C488.3,312.1 491.2,314.9 493.2,317.5 C495.2,320.1 496.2,322.8 497.2,325.4 C498.2,328.0 497.9,331.0 499.2,333.3 C500.5,335.6 503.5,337.7 505.1,339.3 C506.7,340.9 509.0,341.9 509.0,343.2 C509.0,344.5 505.4,345.9 505.1,347.2 C504.8,348.5 505.8,351.1 507.1,351.1 C508.4,351.1 511.4,348.9 513.0,347.2 C514.6,345.5 515.3,342.8 517.0,341.2 C518.7,339.6 521.4,338.3 523.0,337.3 C524.6,336.3 526.2,335.0 526.9,335.3 C527.5,335.6 527.4,338.3 526.9,339.3 C526.4,340.3 524.5,340.9 524.0,341.2" fill="none" stroke="#c4c4cc" stroke-width="1.9" stroke-linecap="round" stroke-linejoin="round" transform="translate(-0.3,-0.4)"/>
<path d="M528.9,279.8 C529.5,281.4 531.5,286.4 532.8,289.7 C534.1,293.0 535.5,296.6 536.8,299.6 C538.1,302.6 540.1,306.3 540.8,307.6" fill="none" stroke="#a2a2aa" stroke-width="4.6" stroke-linecap="round" stroke-linejoin="round"/>
<path d="M528.9,279.8 C529.5,281.4 531.5,286.4 532.8,289.7 C534.1,293.0 535.5,296.6 536.8,299.6 C538.1,302.6 540.1,306.3 540.8,307.6" fill="none" stroke="#c4c4cc" stroke-width="1.9" stroke-linecap="round" stroke-linejoin="round" transform="translate(-0.3,-0.4)"/>
<path d="M532.8,311.5 C534.8,311.8 540.2,312.2 544.7,313.5 C549.2,314.8 557.5,318.4 560.0,319.4" fill="none" stroke="#a2a2aa" stroke-width="4.6" stroke-linecap="round" stroke-linejoin="round"/>
<path d="M532.8,311.5 C534.8,311.8 540.2,312.2 544.7,313.5 C549.2,314.8 557.5,318.4 560.0,319.4" fill="none" stroke="#c4c4cc" stroke-width="1.9" stroke-linecap="round" stroke-linejoin="round" transform="translate(-0.3,-0.4)"/>
<path d="M523.0,319.4 C522.7,321.0 521.7,326.4 521.0,329.3 C520.3,332.2 519.3,335.7 519.0,337.0" fill="none" stroke="#a2a2aa" stroke-width="4.6" stroke-linecap="round" stroke-linejoin="round"/>
<path d="M523.0,319.4 C522.7,321.0 521.7,326.4 521.0,329.3 C520.3,332.2 519.3,335.7 519.0,337.0" fill="none" stroke="#c4c4cc" stroke-width="1.9" stroke-linecap="round" stroke-linejoin="round" transform="translate(-0.3,-0.4)"/>
<path d="M523.5,280.0 C523.0,281.8 520.8,287.3 520.8,290.9 C520.8,294.5 521.2,298.6 523.5,301.8 C525.8,305.0 531.7,306.8 534.4,310.0 C537.1,313.2 539.0,319.0 539.9,320.8" fill="none" stroke="#a2a2aa" stroke-width="4.6" stroke-linecap="round" stroke-linejoin="round"/>
<path d="M523.5,280.0 C523.0,281.8 520.8,287.3 520.8,290.9 C520.8,294.5 521.2,298.6 523.5,301.8 C525.8,305.0 531.7,306.8 534.4,310.0 C537.1,313.2 539.0,319.0 539.9,320.8" fill="none" stroke="#c4c4cc" stroke-width="1.9" stroke-linecap="round" stroke-linejoin="round" transform="translate(-0.3,-0.4)"/>
<path d="M540.0,312.7 C542.7,313.8 550.8,317.9 556.2,319.5 C561.6,321.1 568.1,322.2 572.6,322.2 C577.1,322.2 580.8,321.5 583.5,319.5 C586.2,317.5 588.1,313.4 589.0,310.0 C589.9,306.6 587.7,302.2 589.0,299.0 C590.3,295.8 593.4,292.7 597.0,290.9 C600.6,289.1 606.9,288.0 610.7,288.0 C614.5,288.0 618.5,290.4 620.0,290.9" fill="none" stroke="#a2a2aa" stroke-width="4.6" stroke-linecap="round" stroke-linejoin="round"/>
<path d="M540.0,312.7 C542.7,313.8 550.8,317.9 556.2,319.5 C561.6,321.1 568.1,322.2 572.6,322.2 C577.1,322.2 580.8,321.5 583.5,319.5 C586.2,317.5 588.1,313.4 589.0,310.0 C589.9,306.6 587.7,302.2 589.0,299.0 C590.3,295.8 593.4,292.7 597.0,290.9 C600.6,289.1 606.9,288.0 610.7,288.0 C614.5,288.0 618.5,290.4 620.0,290.9" fill="none" stroke="#c4c4cc" stroke-width="1.9" stroke-linecap="round" stroke-linejoin="round" transform="translate(-0.3,-0.4)"/>
<path d="M583.5,274.5 C584.4,276.3 586.8,281.8 589.0,285.4 C591.2,289.0 593.4,294.0 597.0,296.3 C600.6,298.6 606.9,299.0 610.7,299.0 C614.5,299.0 618.5,296.8 620.0,296.3" fill="none" stroke="#a2a2aa" stroke-width="4.6" stroke-linecap="round" stroke-linejoin="round"/>
<path d="M583.5,274.5 C584.4,276.3 586.8,281.8 589.0,285.4 C591.2,289.0 593.4,294.0 597.0,296.3 C600.6,298.6 606.9,299.0 610.7,299.0 C614.5,299.0 618.5,296.8 620.0,296.3" fill="none" stroke="#c4c4cc" stroke-width="1.9" stroke-linecap="round" stroke-linejoin="round" transform="translate(-0.3,-0.4)"/>
<path d="M586.2,323.6 C586.7,325.4 587.2,331.3 589.0,334.5 C590.8,337.7 594.7,339.4 597.0,342.6 C599.3,345.8 600.3,351.2 602.6,353.5 C604.9,355.8 608.4,354.9 610.7,356.3 C613.0,357.7 615.3,360.8 616.2,361.7" fill="none" stroke="#a2a2aa" stroke-width="4.6" stroke-linecap="round" stroke-linejoin="round"/>
<path d="M586.2,323.6 C586.7,325.4 587.2,331.3 589.0,334.5 C590.8,337.7 594.7,339.4 597.0,342.6 C599.3,345.8 600.3,351.2 602.6,353.5 C604.9,355.8 608.4,354.9 610.7,356.3 C613.0,357.7 615.3,360.8 616.2,361.7" fill="none" stroke="#c4c4cc" stroke-width="1.9" stroke-linecap="round" stroke-linejoin="round" transform="translate(-0.3,-0.4)"/>
<path d="M668.5,193.7 C669.1,195.5 669.1,201.6 672.2,204.7 C675.3,207.8 682.6,212.1 686.9,212.1 C691.2,212.1 695.5,204.1 698.0,204.7 C700.5,205.3 699.2,212.1 701.7,215.8 C704.2,219.5 710.2,222.6 712.7,226.9 C715.2,231.2 716.5,237.8 716.4,241.6 C716.3,245.4 712.7,248.6 712.0,250.0" fill="none" stroke="#a2a2aa" stroke-width="4.6" stroke-linecap="round" stroke-linejoin="round"/>
<path d="M668.5,193.7 C669.1,195.5 669.1,201.6 672.2,204.7 C675.3,207.8 682.6,212.1 686.9,212.1 C691.2,212.1 695.5,204.1 698.0,204.7 C700.5,205.3 699.2,212.1 701.7,215.8 C704.2,219.5 710.2,222.6 712.7,226.9 C715.2,231.2 716.5,237.8 716.4,241.6 C716.3,245.4 712.7,248.6 712.0,250.0" fill="none" stroke="#c4c4cc" stroke-width="1.9" stroke-linecap="round" stroke-linejoin="round" transform="translate(-0.3,-0.4)"/>
<path d="M723.8,308.0 C723.8,309.8 723.2,314.7 723.8,319.0 C724.4,323.3 725.0,330.7 727.5,333.8 C730.0,336.9 736.1,334.4 738.6,337.5 C741.1,340.6 742.2,347.3 742.2,352.2 C742.2,357.1 740.4,363.9 738.6,367.0 C736.8,370.1 731.8,368.2 731.2,370.7 C730.6,373.1 735.5,377.4 734.9,381.7 C734.3,386.0 730.6,393.4 727.5,396.5 C724.4,399.6 719.5,400.2 716.4,400.2 C713.3,400.2 710.9,399.0 709.1,396.5 C707.3,394.0 707.2,388.5 705.4,385.4 C703.5,382.3 701.1,381.7 698.0,378.0 C694.9,374.3 689.5,367.6 687.0,363.3 C684.5,359.0 685.7,355.3 683.2,352.2 C680.7,349.1 675.3,347.3 672.2,344.9 C669.1,342.4 667.9,340.0 664.8,337.5 C661.7,335.0 656.8,332.0 653.7,330.1 C650.6,328.2 648.2,328.8 646.4,326.4 C644.6,323.9 643.9,319.1 642.7,315.4 C641.5,311.7 639.6,306.1 639.0,304.3" fill="none" stroke="#a2a2aa" stroke-width="4.6" stroke-linecap="round" stroke-linejoin="round"/>
<path d="M723.8,308.0 C723.8,309.8 723.2,314.7 723.8,319.0 C724.4,323.3 725.0,330.7 727.5,333.8 C730.0,336.9 736.1,334.4 738.6,337.5 C741.1,340.6 742.2,347.3 742.2,352.2 C742.2,357.1 740.4,363.9 738.6,367.0 C736.8,370.1 731.8,368.2 731.2,370.7 C730.6,373.1 735.5,377.4 734.9,381.7 C734.3,386.0 730.6,393.4 727.5,396.5 C724.4,399.6 719.5,400.2 716.4,400.2 C713.3,400.2 710.9,399.0 709.1,396.5 C707.3,394.0 707.2,388.5 705.4,385.4 C703.5,382.3 701.1,381.7 698.0,378.0 C694.9,374.3 689.5,367.6 687.0,363.3 C684.5,359.0 685.7,355.3 683.2,352.2 C680.7,349.1 675.3,347.3 672.2,344.9 C669.1,342.4 667.9,340.0 664.8,337.5 C661.7,335.0 656.8,332.0 653.7,330.1 C650.6,328.2 648.2,328.8 646.4,326.4 C644.6,323.9 643.9,319.1 642.7,315.4 C641.5,311.7 639.6,306.1 639.0,304.3" fill="none" stroke="#c4c4cc" stroke-width="1.9" stroke-linecap="round" stroke-linejoin="round" transform="translate(-0.3,-0.4)"/>
<path d="M664.8,274.8 C662.9,275.1 656.8,278.6 653.7,276.7 C650.6,274.8 648.9,266.5 646.4,263.7 C643.9,260.9 641.5,258.8 639.0,260.0 C636.5,261.2 634.7,269.9 631.6,271.1 C628.5,272.3 624.3,269.8 620.6,267.4 C616.9,264.9 612.6,260.1 609.5,256.4 C606.4,252.7 603.3,247.2 602.1,245.3" fill="none" stroke="#a2a2aa" stroke-width="4.6" stroke-linecap="round" stroke-linejoin="round"/>
<path d="M664.8,274.8 C662.9,275.1 656.8,278.6 653.7,276.7 C650.6,274.8 648.9,266.5 646.4,263.7 C643.9,260.9 641.5,258.8 639.0,260.0 C636.5,261.2 634.7,269.9 631.6,271.1 C628.5,272.3 624.3,269.8 620.6,267.4 C616.9,264.9 612.6,260.1 609.5,256.4 C606.4,252.7 603.3,247.2 602.1,245.3" fill="none" stroke="#c4c4cc" stroke-width="1.9" stroke-linecap="round" stroke-linejoin="round" transform="translate(-0.3,-0.4)"/>
<path d="M664.8,193.7 C661.7,196.8 651.3,207.2 646.4,212.1 C641.5,217.0 635.9,220.1 635.3,223.2 C634.7,226.3 639.0,229.4 642.7,230.6 C646.4,231.8 653.1,228.8 657.4,230.6 C661.7,232.4 666.6,236.7 668.5,241.6 C670.4,246.5 668.5,256.9 668.5,260.0" fill="none" stroke="#a2a2aa" stroke-width="4.6" stroke-linecap="round" stroke-linejoin="round"/>
<path d="M664.8,193.7 C661.7,196.8 651.3,207.2 646.4,212.1 C641.5,217.0 635.9,220.1 635.3,223.2 C634.7,226.3 639.0,229.4 642.7,230.6 C646.4,231.8 653.1,228.8 657.4,230.6 C661.7,232.4 666.6,236.7 668.5,241.6 C670.4,246.5 668.5,256.9 668.5,260.0" fill="none" stroke="#c4c4cc" stroke-width="1.9" stroke-linecap="round" stroke-linejoin="round" transform="translate(-0.3,-0.4)"/>
<path d="M583.7,330.1 C584.9,331.3 588.5,334.4 591.0,337.5 C593.5,340.6 595.9,344.9 598.4,348.6 C600.9,352.3 602.7,357.2 605.8,359.6 C608.9,362.1 613.2,361.5 616.9,363.3 C620.6,365.1 624.2,369.5 627.9,370.7 C631.6,371.9 635.9,368.9 639.0,370.7 C642.1,372.5 645.8,377.4 646.4,381.7 C647.0,386.0 642.7,392.2 642.7,396.5 C642.7,400.8 644.0,405.1 646.4,407.5 C648.8,409.9 655.6,412.4 657.4,411.2 C659.2,410.0 658.6,403.9 657.4,400.2 C656.2,396.5 651.2,391.0 650.0,389.1" fill="none" stroke="#a2a2aa" stroke-width="4.6" stroke-linecap="round" stroke-linejoin="round"/>
<path d="M583.7,330.1 C584.9,331.3 588.5,334.4 591.0,337.5 C593.5,340.6 595.9,344.9 598.4,348.6 C600.9,352.3 602.7,357.2 605.8,359.6 C608.9,362.1 613.2,361.5 616.9,363.3 C620.6,365.1 624.2,369.5 627.9,370.7 C631.6,371.9 635.9,368.9 639.0,370.7 C642.1,372.5 645.8,377.4 646.4,381.7 C647.0,386.0 642.7,392.2 642.7,396.5 C642.7,400.8 644.0,405.1 646.4,407.5 C648.8,409.9 655.6,412.4 657.4,411.2 C659.2,410.0 658.6,403.9 657.4,400.2 C656.2,396.5 651.2,391.0 650.0,389.1" fill="none" stroke="#c4c4cc" stroke-width="1.9" stroke-linecap="round" stroke-linejoin="round" transform="translate(-0.3,-0.4)"/>
<path d="M635.3,300.6 C635.9,302.5 637.8,308.0 639.0,311.7 C640.2,315.4 642.7,318.4 642.7,322.7 C642.7,327.0 640.2,333.2 639.0,337.5 C637.8,341.8 635.9,344.3 635.3,348.6 C634.7,352.9 634.7,359.0 635.3,363.3 C635.9,367.6 636.5,371.3 639.0,374.4 C641.5,377.5 648.2,380.5 650.0,381.7" fill="none" stroke="#a2a2aa" stroke-width="4.6" stroke-linecap="round" stroke-linejoin="round"/>
<path d="M635.3,300.6 C635.9,302.5 637.8,308.0 639.0,311.7 C640.2,315.4 642.7,318.4 642.7,322.7 C642.7,327.0 640.2,333.2 639.0,337.5 C637.8,341.8 635.9,344.3 635.3,348.6 C634.7,352.9 634.7,359.0 635.3,363.3 C635.9,367.6 636.5,371.3 639.0,374.4 C641.5,377.5 648.2,380.5 650.0,381.7" fill="none" stroke="#c4c4cc" stroke-width="1.9" stroke-linecap="round" stroke-linejoin="round" transform="translate(-0.3,-0.4)"/>
<path d="M580.0,293.2 C582.5,292.0 589.2,286.5 594.7,285.9 C600.2,285.3 607.1,287.8 613.2,289.6 C619.4,291.4 627.3,294.4 631.6,296.9 C635.9,299.3 636.5,301.2 639.0,304.3 C641.5,307.4 645.2,313.5 646.4,315.4" fill="none" stroke="#a2a2aa" stroke-width="4.6" stroke-linecap="round" stroke-linejoin="round"/>
<path d="M580.0,293.2 C582.5,292.0 589.2,286.5 594.7,285.9 C600.2,285.3 607.1,287.8 613.2,289.6 C619.4,291.4 627.3,294.4 631.6,296.9 C635.9,299.3 636.5,301.2 639.0,304.3 C641.5,307.4 645.2,313.5 646.4,315.4" fill="none" stroke="#c4c4cc" stroke-width="1.9" stroke-linecap="round" stroke-linejoin="round" transform="translate(-0.3,-0.4)"/>
<path d="M438.3,199.0 C437.9,200.3 435.8,204.1 435.8,206.7 C435.8,209.3 437.0,212.3 438.3,214.4 C439.6,216.5 440.5,218.2 443.5,219.5 C446.5,220.8 452.9,221.6 456.3,222.0 C459.7,222.4 462.7,222.0 464.0,222.0" fill="none" stroke="#a2a2aa" stroke-width="4.6" stroke-linecap="round" stroke-linejoin="round"/>
<path d="M438.3,199.0 C437.9,200.3 435.8,204.1 435.8,206.7 C435.8,209.3 437.0,212.3 438.3,214.4 C439.6,216.5 440.5,218.2 443.5,219.5 C446.5,220.8 452.9,221.6 456.3,222.0 C459.7,222.4 462.7,222.0 464.0,222.0" fill="none" stroke="#c4c4cc" stroke-width="1.9" stroke-linecap="round" stroke-linejoin="round" transform="translate(-0.3,-0.4)"/>
<path d="M440.9,214.4 C441.3,216.9 442.6,226.3 443.5,229.7 C444.4,233.1 443.0,233.8 446.0,234.9 C449.0,236.0 456.3,236.2 461.4,236.2 C466.5,236.2 474.2,235.1 476.8,234.9" fill="none" stroke="#a2a2aa" stroke-width="4.6" stroke-linecap="round" stroke-linejoin="round"/>
<path d="M440.9,214.4 C441.3,216.9 442.6,226.3 443.5,229.7 C444.4,233.1 443.0,233.8 446.0,234.9 C449.0,236.0 456.3,236.2 461.4,236.2 C466.5,236.2 474.2,235.1 476.8,234.9" fill="none" stroke="#c4c4cc" stroke-width="1.9" stroke-linecap="round" stroke-linejoin="round" transform="translate(-0.3,-0.4)"/>
<path d="M590.0,208.5 C590.3,211.6 591.2,221.4 591.8,227.0 C592.4,232.6 593.6,237.5 593.6,241.8 C593.6,246.1 592.7,250.1 591.8,252.9 C590.9,255.7 588.6,257.5 588.0,258.4" fill="none" stroke="#a2a2aa" stroke-width="4.6" stroke-linecap="round" stroke-linejoin="round"/>
<path d="M590.0,208.5 C590.3,211.6 591.2,221.4 591.8,227.0 C592.4,232.6 593.6,237.5 593.6,241.8 C593.6,246.1 592.7,250.1 591.8,252.9 C590.9,255.7 588.6,257.5 588.0,258.4" fill="none" stroke="#c4c4cc" stroke-width="1.9" stroke-linecap="round" stroke-linejoin="round" transform="translate(-0.3,-0.4)"/>
<path d="M628.8,201.0 C630.0,203.2 633.7,210.0 636.2,214.0 C638.7,218.0 640.5,222.6 643.6,225.1 C646.7,227.6 651.6,227.6 654.7,228.8 C657.8,230.0 659.9,230.3 662.0,232.5 C664.1,234.7 666.7,238.7 667.6,241.8 C668.5,244.9 667.3,247.3 667.6,251.0 C667.9,254.7 669.2,260.6 669.5,264.0 C669.8,267.4 669.5,270.2 669.5,271.4" fill="none" stroke="#a2a2aa" stroke-width="4.6" stroke-linecap="round" stroke-linejoin="round"/>
<path d="M628.8,201.0 C630.0,203.2 633.7,210.0 636.2,214.0 C638.7,218.0 640.5,222.6 643.6,225.1 C646.7,227.6 651.6,227.6 654.7,228.8 C657.8,230.0 659.9,230.3 662.0,232.5 C664.1,234.7 666.7,238.7 667.6,241.8 C668.5,244.9 667.3,247.3 667.6,251.0 C667.9,254.7 669.2,260.6 669.5,264.0 C669.8,267.4 669.5,270.2 669.5,271.4" fill="none" stroke="#c4c4cc" stroke-width="1.9" stroke-linecap="round" stroke-linejoin="round" transform="translate(-0.3,-0.4)"/>
<path d="M630.6,204.8 C632.8,205.7 639.0,209.1 643.6,210.3 C648.2,211.5 654.1,212.5 658.4,212.2 C662.7,211.9 667.0,210.7 669.5,208.5 C672.0,206.3 672.6,200.8 673.2,199.2" fill="none" stroke="#a2a2aa" stroke-width="4.6" stroke-linecap="round" stroke-linejoin="round"/>
<path d="M630.6,204.8 C632.8,205.7 639.0,209.1 643.6,210.3 C648.2,211.5 654.1,212.5 658.4,212.2 C662.7,211.9 667.0,210.7 669.5,208.5 C672.0,206.3 672.6,200.8 673.2,199.2" fill="none" stroke="#c4c4cc" stroke-width="1.9" stroke-linecap="round" stroke-linejoin="round" transform="translate(-0.3,-0.4)"/>
<path d="M604.7,232.5 C605.6,234.3 608.4,240.2 610.3,243.6 C612.1,247.0 613.6,249.5 615.8,252.9 C617.9,256.3 620.7,260.6 623.2,264.0 C625.7,267.4 628.1,272.6 630.6,273.2 C633.1,273.8 635.8,269.8 638.0,267.7 C640.2,265.6 642.1,260.6 643.6,260.3 C645.1,260.0 646.1,263.7 647.3,265.8 C648.5,267.9 648.9,271.3 651.0,273.2 C653.1,275.1 657.7,276.7 660.2,277.0 C662.7,277.3 664.9,275.3 665.8,275.0" fill="none" stroke="#a2a2aa" stroke-width="4.6" stroke-linecap="round" stroke-linejoin="round"/>
<path d="M604.7,232.5 C605.6,234.3 608.4,240.2 610.3,243.6 C612.1,247.0 613.6,249.5 615.8,252.9 C617.9,256.3 620.7,260.6 623.2,264.0 C625.7,267.4 628.1,272.6 630.6,273.2 C633.1,273.8 635.8,269.8 638.0,267.7 C640.2,265.6 642.1,260.6 643.6,260.3 C645.1,260.0 646.1,263.7 647.3,265.8 C648.5,267.9 648.9,271.3 651.0,273.2 C653.1,275.1 657.7,276.7 660.2,277.0 C662.7,277.3 664.9,275.3 665.8,275.0" fill="none" stroke="#c4c4cc" stroke-width="1.9" stroke-linecap="round" stroke-linejoin="round" transform="translate(-0.3,-0.4)"/>
<path d="M584.4,262.1 C585.6,263.0 589.0,266.5 591.8,267.7 C594.6,268.9 598.9,268.3 601.0,269.5 C603.1,270.7 604.1,272.8 604.7,275.0 C605.3,277.2 604.7,281.2 604.7,282.5" fill="none" stroke="#a2a2aa" stroke-width="4.6" stroke-linecap="round" stroke-linejoin="round"/>
<path d="M584.4,262.1 C585.6,263.0 589.0,266.5 591.8,267.7 C594.6,268.9 598.9,268.3 601.0,269.5 C603.1,270.7 604.1,272.8 604.7,275.0 C605.3,277.2 604.7,281.2 604.7,282.5" fill="none" stroke="#c4c4cc" stroke-width="1.9" stroke-linecap="round" stroke-linejoin="round" transform="translate(-0.3,-0.4)"/>
<path d="M591.8,288.0 C593.9,287.4 600.4,284.0 604.7,284.3 C609.0,284.6 615.5,289.1 617.7,290.0" fill="none" stroke="#a2a2aa" stroke-width="4.6" stroke-linecap="round" stroke-linejoin="round"/>
<path d="M591.8,288.0 C593.9,287.4 600.4,284.0 604.7,284.3 C609.0,284.6 615.5,289.1 617.7,290.0" fill="none" stroke="#c4c4cc" stroke-width="1.9" stroke-linecap="round" stroke-linejoin="round" transform="translate(-0.3,-0.4)"/>
<path d="M701.0,89.0 C703.5,87.5 710.7,82.9 716.0,80.0 C721.3,77.1 727.9,73.3 732.7,71.6 C737.5,69.8 742.3,69.2 745.0,69.5 C747.7,69.8 748.5,71.2 749.0,73.6 C749.5,76.0 748.7,80.2 748.0,84.0 C747.3,87.8 746.7,92.8 745.0,96.5 C743.3,100.2 739.2,104.4 738.0,106.0" fill="none" stroke="#9c9ca4" stroke-width="5.6" stroke-linecap="round" stroke-linejoin="round"/>
<path d="M701.0,89.0 C703.5,87.5 710.7,82.9 716.0,80.0 C721.3,77.1 727.9,73.3 732.7,71.6 C737.5,69.8 742.3,69.2 745.0,69.5 C747.7,69.8 748.5,71.2 749.0,73.6 C749.5,76.0 748.7,80.2 748.0,84.0 C747.3,87.8 746.7,92.8 745.0,96.5 C743.3,100.2 739.2,104.4 738.0,106.0" fill="none" stroke="#c0c0c8" stroke-width="2.4" stroke-linecap="round" stroke-linejoin="round" transform="translate(-0.3,-0.4)"/>
<path d="M610.3,206.6 C609.4,210.0 607.2,222.1 604.7,227.0 C602.2,231.9 599.5,233.7 595.5,236.2 C591.5,238.7 585.3,240.0 580.7,241.8 C576.1,243.7 569.9,246.4 567.7,247.3" fill="none" stroke="#9e9eac" stroke-width="6.5" stroke-linecap="butt" stroke-linejoin="round"/>
<path d="M610.3,206.6 C609.4,210.0 607.2,222.1 604.7,227.0 C602.2,231.9 599.5,233.7 595.5,236.2 C591.5,238.7 585.3,240.0 580.7,241.8 C576.1,243.7 569.9,246.4 567.7,247.3" fill="none" stroke="#d0d0da" stroke-width="5.1" stroke-linecap="butt" stroke-linejoin="round"/>
<path d="M532.0,212.0 C532.2,214.7 532.7,222.5 533.0,228.0 C533.3,233.5 533.5,239.3 534.0,245.0 C534.5,250.7 535.7,259.2 536.0,262.0" fill="none" stroke="#b8b8c6" stroke-width="10.0" stroke-linecap="butt" stroke-linejoin="round"/>
<path d="M532.0,212.0 C532.2,214.7 532.7,222.5 533.0,228.0 C533.3,233.5 533.5,239.3 534.0,245.0 C534.5,250.7 535.7,259.2 536.0,262.0" fill="none" stroke="#d6d6e0" stroke-width="8.6" stroke-linecap="butt" stroke-linejoin="round"/>
<path d="M443.5,209.2 C445.6,208.6 450.8,206.7 456.3,205.4 C461.9,204.1 469.5,202.3 476.8,201.5 C484.1,200.7 493.1,200.3 499.9,200.3 C506.7,200.3 513.1,200.4 517.8,201.5 C522.5,202.6 526.4,205.8 528.1,206.7" fill="none" stroke="#9e9eac" stroke-width="6.0" stroke-linecap="butt" stroke-linejoin="round"/>
<path d="M443.5,209.2 C445.6,208.6 450.8,206.7 456.3,205.4 C461.9,204.1 469.5,202.3 476.8,201.5 C484.1,200.7 493.1,200.3 499.9,200.3 C506.7,200.3 513.1,200.4 517.8,201.5 C522.5,202.6 526.4,205.8 528.1,206.7" fill="none" stroke="#c4c4d0" stroke-width="4.6" stroke-linecap="butt" stroke-linejoin="round"/>
<path d="M469.1,224.6 C472.5,224.2 483.2,222.6 489.6,222.0 C496.0,221.4 502.0,220.8 507.6,220.8 C513.2,220.8 520.4,221.8 523.0,222.0" fill="none" stroke="#9e9eac" stroke-width="5.0" stroke-linecap="butt" stroke-linejoin="round"/>
<path d="M469.1,224.6 C472.5,224.2 483.2,222.6 489.6,222.0 C496.0,221.4 502.0,220.8 507.6,220.8 C513.2,220.8 520.4,221.8 523.0,222.0" fill="none" stroke="#c4c4d0" stroke-width="3.6" stroke-linecap="butt" stroke-linejoin="round"/>
<path d="M459.5,289.7 C462.9,289.2 473.2,287.5 480.0,286.5 C486.8,285.5 493.2,284.6 500.0,283.5 C506.8,282.4 517.5,280.4 521.0,279.8" fill="none" stroke="#9e9eac" stroke-width="6.5" stroke-linecap="butt" stroke-linejoin="round"/>
<path d="M459.5,289.7 C462.9,289.2 473.2,287.5 480.0,286.5 C486.8,285.5 493.2,284.6 500.0,283.5 C506.8,282.4 517.5,280.4 521.0,279.8" fill="none" stroke="#c4c4d0" stroke-width="5.1" stroke-linecap="butt" stroke-linejoin="round"/>
<path d="M736.0,104.0 C730.0,108.0 713.1,119.2 700.0,128.0 C686.9,136.8 664.5,152.2 657.4,157.0" fill="none" stroke="#90909a" stroke-width="11.0" stroke-linecap="butt" stroke-linejoin="round"/>
<path d="M736.0,104.0 C730.0,108.0 713.1,119.2 700.0,128.0 C686.9,136.8 664.5,152.2 657.4,157.0" fill="none" stroke="#ababb4" stroke-width="9.6" stroke-linecap="butt" stroke-linejoin="round"/>
<path d="M657.4,136.0 C659.8,133.0 667.3,123.8 672.0,118.0 C676.7,112.2 683.5,104.2 685.8,101.4" fill="none" stroke="#8c8c96" stroke-width="9.5" stroke-linecap="butt" stroke-linejoin="round"/>
<path d="M657.4,136.0 C659.8,133.0 667.3,123.8 672.0,118.0 C676.7,112.2 683.5,104.2 685.8,101.4" fill="none" stroke="#a6a6b0" stroke-width="8.1" stroke-linecap="butt" stroke-linejoin="round"/>
<polygon points="693.9,108.1 698.6,86.0 677.7,94.7" fill="#a6a6b0" stroke="#8c8c96" stroke-width="0.8" stroke-linejoin="round"/>
<path d="M723.8,310.0 C722.8,306.7 720.0,295.8 718.0,290.0 C716.0,284.2 714.2,279.5 712.0,275.0 C709.8,270.5 706.2,265.0 705.0,263.0" fill="none" stroke="#86868e" stroke-width="13.0" stroke-linecap="butt" stroke-linejoin="round"/>
<path d="M723.8,310.0 C722.8,306.7 720.0,295.8 718.0,290.0 C716.0,284.2 714.2,279.5 712.0,275.0 C709.8,270.5 706.2,265.0 705.0,263.0" fill="none" stroke="#9c9ca4" stroke-width="11.6" stroke-linecap="butt" stroke-linejoin="round"/>
<polygon points="715.4,257.0 699.0,252.6 694.6,269.0" fill="#9c9ca4" stroke="#86868e" stroke-width="0.8" stroke-linejoin="round"/>
<path d="M694.3,317.0 C692.6,313.8 687.2,303.5 684.0,298.0 C680.8,292.5 676.5,286.3 675.0,284.0" fill="none" stroke="#86868e" stroke-width="11.5" stroke-linecap="butt" stroke-linejoin="round"/>
<path d="M694.3,317.0 C692.6,313.8 687.2,303.5 684.0,298.0 C680.8,292.5 676.5,286.3 675.0,284.0" fill="none" stroke="#9c9ca4" stroke-width="10.1" stroke-linecap="butt" stroke-linejoin="round"/>
<polygon points="683.4,278.6 669.1,274.7 666.6,289.4" fill="#9c9ca4" stroke="#86868e" stroke-width="0.8" stroke-linejoin="round"/>
<path d="M633.6,77.6 C634.7,81.3 636.9,91.3 640.0,100.0 C643.1,108.7 650.0,125.0 652.0,130.0" fill="none" stroke="#b8b8c6" stroke-width="9.0" stroke-linecap="butt" stroke-linejoin="round"/>
<path d="M633.6,77.6 C634.7,81.3 636.9,91.3 640.0,100.0 C643.1,108.7 650.0,125.0 652.0,130.0" fill="none" stroke="#dcdce6" stroke-width="7.6" stroke-linecap="butt" stroke-linejoin="round"/>
<path d="M616.5,52.4 C617.0,56.7 619.6,70.4 619.7,78.0 C619.8,85.6 618.6,92.0 617.0,98.0 C615.4,104.0 611.2,111.3 610.0,114.0" fill="none" stroke="#b4b4c0" stroke-width="10.6" stroke-linecap="butt" stroke-linejoin="round"/>
<path d="M616.5,52.4 C617.0,56.7 619.6,70.4 619.7,78.0 C619.8,85.6 618.6,92.0 617.0,98.0 C615.4,104.0 611.2,111.3 610.0,114.0" fill="none" stroke="#d4d4dc" stroke-width="9.2" stroke-linecap="butt" stroke-linejoin="round"/>
<polygon points="556.8,117.0 585.6,127.0 603.4,203.0 574.7,209.0" fill="url(#gr)" stroke="#4a2a10" stroke-width="0.5" opacity="1" stroke-linejoin="round"/>
<polygon points="588.5,115.0 618.3,126.7 639.0,198.0 607.4,207.0" fill="url(#gr)" stroke="#4a2a10" stroke-width="0.5" opacity="1" stroke-linejoin="round"/>
<polygon points="619.6,113.0 638.8,115.0 673.5,185.0 646.5,195.0 617.7,126.5" fill="url(#gr)" stroke="#4a2a10" stroke-width="0.5" opacity="1" stroke-linejoin="round"/>
<path d="M559,118 L572,113 L576,150 L562,140 Z" fill="#ddd8d0" opacity="0.7"/>
<path d="M562,150 L602,198" stroke="#dcb4c0" stroke-width="14" opacity="0.55"/>
<path d="M594,150 L634,198" stroke="#dcb4c0" stroke-width="14" opacity="0.55"/>
<path d="M626,140 L662,184" stroke="#dcb4c0" stroke-width="12" opacity="0.5"/>
<path d="M633,90 C645,105 652,118 654,132 C656,142 652,150 648,158" stroke="#ecebf2" stroke-width="10" fill="none" opacity="0.75"/>
<path d="M612,108 C606,122 598,136 592,152 C589,162 587,172 586,182" stroke="#e4e4ec" stroke-width="10" fill="none" opacity="0.8"/>
<line x1="585.6" y1="127" x2="600.5" y2="201" stroke="#3a2010" stroke-width="1.2"/>
<line x1="618.3" y1="126.7" x2="637" y2="198" stroke="#3a2010" stroke-width="1.2"/>
<line x1="617.7" y1="126.5" x2="646.5" y2="194.8" stroke="#3a2010" stroke-width="1.2"/>
<line x1="574.7" y1="209" x2="603.4" y2="203" stroke="#5a2a10" stroke-width="2"/>
<line x1="607.4" y1="207" x2="639" y2="198" stroke="#5a2a10" stroke-width="2"/>
<line x1="646.5" y1="195" x2="673.5" y2="185" stroke="#5a2a10" stroke-width="2"/>
<path d="M589.3,92.5 C590.1,92.8 592.7,92.8 594.0,94.1 C595.3,95.4 596.5,97.5 597.3,100.5 C598.1,103.5 598.6,110.1 598.9,112.0" fill="none" stroke="#a0501a" stroke-width="2.6" stroke-linecap="round" stroke-linejoin="round"/>
<path d="M589.3,92.5 C590.1,92.8 592.7,92.8 594.0,94.1 C595.3,95.4 596.5,97.5 597.3,100.5 C598.1,103.5 598.6,110.1 598.9,112.0" fill="none" stroke="#e08a40" stroke-width="1.1" stroke-linecap="round" stroke-linejoin="round" transform="translate(-0.3,-0.4)"/>
<path d="M626.2,95.7 C626.7,96.2 628.6,97.3 629.4,98.9 C630.2,100.5 631.3,103.1 631.0,105.3 C630.7,107.5 628.3,110.9 627.8,112.0" fill="none" stroke="#a0501a" stroke-width="2.6" stroke-linecap="round" stroke-linejoin="round"/>
<path d="M626.2,95.7 C626.7,96.2 628.6,97.3 629.4,98.9 C630.2,100.5 631.3,103.1 631.0,105.3 C630.7,107.5 628.3,110.9 627.8,112.0" fill="none" stroke="#e08a40" stroke-width="1.1" stroke-linecap="round" stroke-linejoin="round" transform="translate(-0.3,-0.4)"/>
<path d="M556.6,38.0 C556.4,40.2 555.7,45.8 555.3,51.1 C554.9,56.4 554.4,64.3 554.0,69.6 C553.6,74.9 552.9,78.6 552.7,82.8 C552.5,87.0 553.0,92.3 552.7,95.0 C552.4,97.7 551.8,97.8 550.8,98.8 C549.8,99.8 548.0,99.8 547.0,100.8 C546.0,101.8 545.3,104.0 545.0,104.6" fill="none" stroke="#1e2a80" stroke-width="3.6" stroke-linecap="round" stroke-linejoin="round"/>
<path d="M556.6,38.0 C556.4,40.2 555.7,45.8 555.3,51.1 C554.9,56.4 554.4,64.3 554.0,69.6 C553.6,74.9 552.9,78.6 552.7,82.8 C552.5,87.0 553.0,92.3 552.7,95.0 C552.4,97.7 551.8,97.8 550.8,98.8 C549.8,99.8 548.0,99.8 547.0,100.8 C546.0,101.8 545.3,104.0 545.0,104.6" fill="none" stroke="#3a4cb0" stroke-width="1.5" stroke-linecap="round" stroke-linejoin="round" transform="translate(-0.3,-0.4)"/>
<polygon points="543.0,140.0 562.0,146.0 571.0,186.0 556.0,190.0" fill="#4456b4" stroke="none" stroke-width="0" opacity="0.9" stroke-linejoin="round"/>
<path d="M548,160 L568,166 M550,174 L569,180" stroke="#e0e0ea" stroke-width="3" opacity="0.8"/>
<polygon points="501.7,138.3 525.8,135.4 531.0,160.0 529.6,177.7 516.0,158.5 510.0,152.0 506.5,154.6" fill="#3346a8" stroke="#1e2a80" stroke-width="0.6" opacity="1" stroke-linejoin="round"/>
<polygon points="523.0,170.0 542.0,170.0 552.0,205.0 561.0,241.0 556.0,246.0 540.0,228.0 526.0,213.0" fill="#2c3c9c" stroke="#1e2a80" stroke-width="0.6" opacity="1" stroke-linejoin="round"/>
<polygon points="544.0,104.0 556.0,128.0 551.0,131.0 549.0,165.0 545.0,192.0 526.0,206.0 527.0,180.0 530.0,131.0 527.0,129.0" fill="#2e3f9e" stroke="#1e2a80" stroke-width="0.6" opacity="1" stroke-linejoin="round"/>
<path d="M536,135 L534,200" stroke="#3e50b2" stroke-width="4" opacity="0.8"/>
<polygon points="462.7,208.0 489.6,214.4 528.5,235.4 551.5,247.0 549.0,266.0 540.0,259.0 518.8,248.8 490.0,233.5 464.0,227.2 467.0,217.0" fill="#2e3f9e" stroke="#1e2a80" stroke-width="0.6" opacity="1" stroke-linejoin="round"/>
<path d="M466,212 L490,218 L528,238" stroke="#4456b8" stroke-width="3" fill="none" opacity="0.7"/>
<path d="M557.3,239.2 C557.6,240.5 558.2,244.4 559.2,247.0 C560.2,249.6 561.1,252.7 563.0,254.6 C564.9,256.5 568.5,256.6 570.8,258.5 C573.0,260.4 575.2,263.3 576.5,266.2 C577.8,269.1 579.5,273.6 578.5,275.8 C577.5,278.0 573.7,279.3 570.8,279.6 C567.9,279.9 563.8,279.3 561.2,277.7 C558.6,276.1 556.7,272.2 555.4,270.0 C554.1,267.8 553.8,265.2 553.5,264.2" fill="none" stroke="#1e2a80" stroke-width="3.0" stroke-linecap="round" stroke-linejoin="round"/>
<path d="M557.3,239.2 C557.6,240.5 558.2,244.4 559.2,247.0 C560.2,249.6 561.1,252.7 563.0,254.6 C564.9,256.5 568.5,256.6 570.8,258.5 C573.0,260.4 575.2,263.3 576.5,266.2 C577.8,269.1 579.5,273.6 578.5,275.8 C577.5,278.0 573.7,279.3 570.8,279.6 C567.9,279.9 563.8,279.3 561.2,277.7 C558.6,276.1 556.7,272.2 555.4,270.0 C554.1,267.8 553.8,265.2 553.5,264.2" fill="none" stroke="#3a4cb0" stroke-width="1.3" stroke-linecap="round" stroke-linejoin="round" transform="translate(-0.3,-0.4)"/>
<path d="M553.5,254.6 C555.1,255.2 559.5,258.2 563.0,258.5 C566.5,258.8 571.1,256.2 574.6,256.5 C578.1,256.8 582.6,259.8 584.2,260.4" fill="none" stroke="#1e2a80" stroke-width="3.0" stroke-linecap="round" stroke-linejoin="round"/>
<path d="M553.5,254.6 C555.1,255.2 559.5,258.2 563.0,258.5 C566.5,258.8 571.1,256.2 574.6,256.5 C578.1,256.8 582.6,259.8 584.2,260.4" fill="none" stroke="#3a4cb0" stroke-width="1.3" stroke-linecap="round" stroke-linejoin="round" transform="translate(-0.3,-0.4)"/>
<path d="M538,205 L546,240" stroke="#dcdce6" stroke-width="6" opacity="0.6"/>
<polygon points="453.7,250.3 513.0,262.3 514.0,259.4 522.7,273.8 509.2,282.5 505.0,277.2 449.9,269.5" fill="url(#gor)" stroke="#8a3a10" stroke-width="0.6" opacity="1" stroke-linejoin="round"/>
<path d="M522.7,273.8 C524.0,273.5 528.2,271.7 530.4,272.0 C532.6,272.3 534.1,274.2 536.0,275.8 C537.9,277.4 539.7,279.9 542.0,281.5 C544.3,283.1 546.7,284.6 549.6,285.4 C552.5,286.2 557.6,286.1 559.2,286.3" fill="none" stroke="#c86a20" stroke-width="2.2" stroke-linecap="round" stroke-linejoin="round"/>
<path d="M522.7,273.8 C524.0,273.5 528.2,271.7 530.4,272.0 C532.6,272.3 534.1,274.2 536.0,275.8 C537.9,277.4 539.7,279.9 542.0,281.5 C544.3,283.1 546.7,284.6 549.6,285.4 C552.5,286.2 557.6,286.1 559.2,286.3" fill="none" stroke="#f0a050" stroke-width="0.9" stroke-linecap="round" stroke-linejoin="round" transform="translate(-0.3,-0.4)"/>
<g font-family="Liberation Serif, serif" font-weight="bold" font-size="30.5" fill="#000">
<text x="57.2" y="24.2" textLength="134.9" lengthAdjust="spacingAndGlyphs">Fibrillar</text>
<text x="200.3" y="24.2" textLength="154.7" lengthAdjust="spacingAndGlyphs">Structure</text>
<text x="413.2" y="25.0" textLength="168.4" lengthAdjust="spacingAndGlyphs">Branching</text>
<text x="592.2" y="25.0" textLength="154" lengthAdjust="spacingAndGlyphs">Structure</text>
</g>
<line x1="187.5" y1="380.6" x2="196" y2="393" stroke="#9e9ea6" stroke-width="2.7"/>
<line x1="235.6" y1="396" x2="226" y2="410" stroke="#9e9ea6" stroke-width="2.7"/>
<line x1="224.4" y1="424" x2="228.7" y2="436" stroke="#555" stroke-width="1.3" stroke-dasharray="1.3 2.2"/>
<line x1="255" y1="434" x2="243" y2="439" stroke="#9e9ea6" stroke-width="2.7"/>
<line x1="233" y1="449" x2="233.5" y2="463.7" stroke="#555" stroke-width="1.3" stroke-dasharray="1.3 2.2"/>
<line x1="244.7" y1="471.8" x2="259" y2="472.9" stroke="#111" stroke-width="2.4"/>
<line x1="231" y1="478.5" x2="228" y2="491.4" stroke="#555" stroke-width="1.3" stroke-dasharray="1.3 2.2"/>
<line x1="236" y1="503" x2="246.5" y2="508.4" stroke="#111" stroke-width="2.4"/>
<line x1="216" y1="505.7" x2="212" y2="511.8" stroke="#555" stroke-width="1.3" stroke-dasharray="1.3 2.2"/>
<line x1="185" y1="509" x2="194.4" y2="514" stroke="#111" stroke-width="2.4"/>
<line x1="203" y1="526" x2="201.5" y2="540.2" stroke="#555" stroke-width="1.3" stroke-dasharray="1.3 2.2"/>
<line x1="211.5" y1="554" x2="220.3" y2="559.2" stroke="#111" stroke-width="2.4"/>
<line x1="193.5" y1="554.5" x2="190.5" y2="562.3" stroke="#555" stroke-width="1.3" stroke-dasharray="1.3 2.2"/>
<line x1="187" y1="576.3" x2="196.5" y2="592" stroke="#9e9ea6" stroke-width="2.7"/>
<line x1="157.3" y1="589.4" x2="156" y2="608.7" stroke="#9e9ea6" stroke-width="2.7"/>
<line x1="111" y1="585.4" x2="120" y2="583" stroke="#9e9ea6" stroke-width="2.7"/>
<line x1="141.3" y1="581.5" x2="147.3" y2="582" stroke="#555" stroke-width="1.3" stroke-dasharray="1.3 2.2"/>
<line x1="554.5" y1="398.5" x2="559" y2="416" stroke="#9e9ea6" stroke-width="2.7"/>
<line x1="563.6" y1="431.7" x2="565.7" y2="446.6" stroke="#555" stroke-width="1.3" stroke-dasharray="1.3 2.2"/>
<line x1="548" y1="474.5" x2="559.4" y2="462" stroke="#9e9ea6" stroke-width="2.7"/>
<line x1="485" y1="479.3" x2="496" y2="480" stroke="#9e9ea6" stroke-width="2.7"/>
<line x1="520.1" y1="481.5" x2="527.4" y2="482" stroke="#555" stroke-width="1.3" stroke-dasharray="1.3 2.2"/>
<line x1="583.7" y1="483.3" x2="571.3" y2="496" stroke="#111" stroke-width="2.4"/>
<line x1="576" y1="512" x2="578.8" y2="527.7" stroke="#555" stroke-width="1.3" stroke-dasharray="1.3 2.2"/>
<line x1="583.5" y1="535.5" x2="590.5" y2="536.5" stroke="#555" stroke-width="1.3" stroke-dasharray="1.3 2.2"/>
<line x1="562.7" y1="543.3" x2="551.8" y2="554" stroke="#111" stroke-width="2.4"/>
<line x1="603.6" y1="554" x2="605.7" y2="569.1" stroke="#555" stroke-width="1.3" stroke-dasharray="1.3 2.2"/>
<line x1="607.6" y1="585.4" x2="608.8" y2="604.8" stroke="#9e9ea6" stroke-width="2.7"/>
<line x1="610.3" y1="538.1" x2="623.3" y2="525.6" stroke="#111" stroke-width="2.4"/>
<line x1="604.7" y1="476.5" x2="612.3" y2="478" stroke="#555" stroke-width="1.3" stroke-dasharray="1.3 2.2"/>
<line x1="644" y1="467.4" x2="632.8" y2="477.6" stroke="#111" stroke-width="2.4"/>
<line x1="626" y1="493.5" x2="628.5" y2="509.7" stroke="#555" stroke-width="1.3" stroke-dasharray="1.3 2.2"/>
<line x1="692.8" y1="427" x2="687" y2="431.5" stroke="#9e9ea6" stroke-width="2.7"/>
<line x1="664.9" y1="449" x2="664.1" y2="451.3" stroke="#555" stroke-width="1.3" stroke-dasharray="1.3 2.2"/>
<line x1="672.6" y1="534" x2="681.5" y2="546" stroke="#9e9ea6" stroke-width="2.7"/>
<line x1="644.1" y1="520" x2="649.2" y2="522.3" stroke="#555" stroke-width="1.3" stroke-dasharray="1.3 2.2"/>
<line x1="579.6" y1="460" x2="581" y2="467.5" stroke="#555" stroke-width="1.3" stroke-dasharray="1.3 2.2"/>
<rect x="172" y="367" width="21" height="14" fill="#a7a2d6"/>
<rect x="231" y="382" width="21" height="14" fill="#a7a2d6"/>
<rect x="255" y="423" width="21" height="14" fill="#a7a2d6"/>
<rect x="89.5" y="582.5" width="21.4" height="14.3" fill="#a7a2d6"/>
<rect x="145.4" y="608.7" width="21.4" height="14.3" fill="#a7a2d6"/>
<rect x="190.8" y="592" width="20.7" height="14.3" fill="#a7a2d6"/>
<rect x="189" y="393" width="22" height="15" fill="#f0dfa6" stroke="#dccb8e" stroke-width="0.7"/>
<rect x="211" y="410" width="21" height="14" fill="#f0dfa6" stroke="#dccb8e" stroke-width="0.7"/>
<rect x="221" y="436" width="22" height="13.5" fill="#f0dfa6" stroke="#dccb8e" stroke-width="0.7"/>
<rect x="172.2" y="562.3" width="21" height="14" fill="#f0dfa6" stroke="#dccb8e" stroke-width="0.7"/>
<rect x="147.3" y="574.9" width="21.4" height="14.5" fill="#f0dfa6" stroke="#dccb8e" stroke-width="0.7"/>
<rect x="120" y="574.4" width="21.3" height="14.1" fill="#f0dfa6" stroke="#dccb8e" stroke-width="0.7"/>
<rect x="223.6" y="463.7" width="21" height="14.8" fill="#e8a032"/>
<rect x="214.7" y="491.4" width="21.3" height="14.3" fill="#e8a032"/>
<rect x="194.4" y="511.8" width="21.3" height="14.2" fill="#e8a032"/>
<rect x="190.1" y="540.2" width="21.4" height="14.3" fill="#e8a032"/>
<rect x="259" y="466.4" width="21.4" height="14.3" fill="#3d50ab"/>
<rect x="246.5" y="506.2" width="21.5" height="14.3" fill="#3d50ab"/>
<rect x="163.9" y="497.7" width="21.2" height="14.1" fill="#3d50ab"/>
<rect x="219.6" y="559.2" width="21.4" height="14.3" fill="#3d50ab"/>
<rect x="540.4" y="382.5" width="23.2" height="16" fill="#f0dfa6" stroke="#dccb8e" stroke-width="0.7"/>
<rect x="496.2" y="473.4" width="24" height="16" fill="#f0dfa6" stroke="#dccb8e" stroke-width="0.7"/>
<rect x="527.4" y="474.9" width="23.8" height="16" fill="#f0dfa6" stroke="#dccb8e" stroke-width="0.7"/>
<rect x="595" y="569.1" width="23.7" height="16.3" fill="#f0dfa6" stroke="#dccb8e" stroke-width="0.7"/>
<rect x="664.1" y="431.5" width="23.8" height="16.2" fill="#f0dfa6" stroke="#dccb8e" stroke-width="0.7"/>
<rect x="681.5" y="539" width="23.6" height="16" fill="#f0dfa6" stroke="#dccb8e" stroke-width="0.7"/>
<rect x="549.3" y="416" width="23.6" height="15.7" fill="#a7a2d6"/>
<rect x="556.3" y="446.6" width="23.4" height="15.4" fill="#a7a2d6"/>
<rect x="461.7" y="470.7" width="23.4" height="15.3" fill="#a7a2d6"/>
<rect x="597.4" y="604.8" width="23.9" height="16" fill="#a7a2d6"/>
<rect x="692.8" y="411.5" width="23.1" height="15.4" fill="#a7a2d6"/>
<rect x="649.2" y="522.3" width="23.4" height="15.7" fill="#a7a2d6"/>
<rect x="550.8" y="496" width="24.4" height="16" fill="#e8a032"/>
<rect x="559.1" y="527.7" width="24.4" height="15.6" fill="#e8a032"/>
<rect x="590.5" y="538.1" width="23.8" height="16" fill="#e8a032"/>
<rect x="641" y="451.3" width="23.9" height="16.1" fill="#e8a032"/>
<rect x="581" y="467.5" width="23.7" height="15.8" fill="#3d50ab"/>
<rect x="612.3" y="477.6" width="23.7" height="15.9" fill="#3d50ab"/>
<rect x="620.5" y="509.7" width="23.6" height="15.9" fill="#3d50ab"/>
<rect x="532.3" y="554" width="23.8" height="15.9" fill="#3d50ab"/>
</svg>
</body></html>
